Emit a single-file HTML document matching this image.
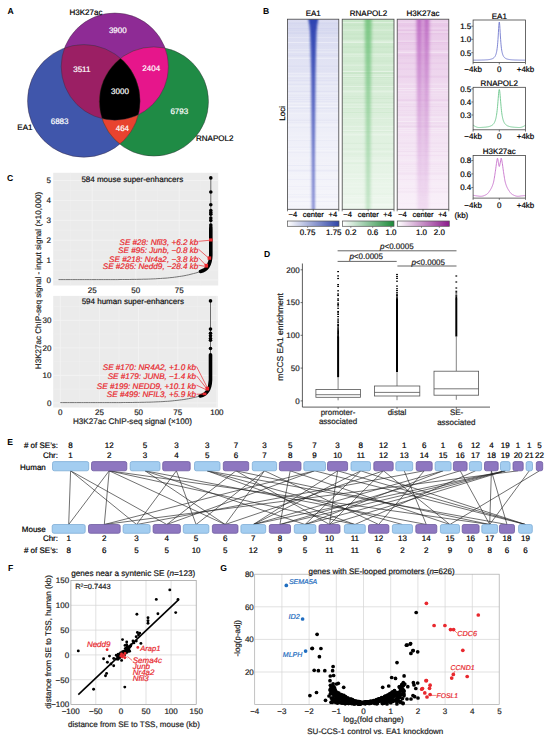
<!DOCTYPE html>
<html><head><meta charset="utf-8"><title>Figure</title>
<style>html,body{margin:0;padding:0;background:#fff;width:550px;height:742px;overflow:hidden;} svg{display:block;} text{font-family:"Liberation Sans",sans-serif;text-rendering:geometricPrecision;stroke-width:0.2px;}</style>
</head><body>
<svg width="550" height="742" viewBox="0 0 550 742">
<rect width="550" height="742" fill="#fff"/>
<text x="10.5" y="13.8" font-size="8.6" text-anchor="middle" fill="#000" stroke="none" font-weight="bold" font-style="normal" >A</text>
<defs><clipPath id="cP"><circle cx="114.8" cy="66.6" r="53.6" fill="#000" /></clipPath><clipPath id="cB"><circle cx="83.8" cy="100.9" r="56.3" fill="#000" /></clipPath><clipPath id="cG"><circle cx="153.9" cy="101.5" r="54.6" fill="#000" /></clipPath></defs>
<circle cx="114.8" cy="66.6" r="53.6" fill="#8E2B95" />
<circle cx="83.8" cy="100.9" r="56.3" fill="#4056AB" />
<circle cx="153.9" cy="101.5" r="54.6" fill="#1F8B45" />
<g clip-path="url(#cP)"><circle cx="83.8" cy="100.9" r="56.3" fill="#9B1F64" /><circle cx="153.9" cy="101.5" r="54.6" fill="#E6168B" /></g>
<g clip-path="url(#cB)"><circle cx="153.9" cy="101.5" r="54.6" fill="#E8432F" /></g>
<g clip-path="url(#cB)"><g clip-path="url(#cG)"><circle cx="114.8" cy="66.6" r="53.6" fill="#000" /></g></g>
<circle cx="114.8" cy="66.6" r="53.6" fill="none" stroke="#3a2a3a" stroke-width="0.6" stroke-opacity="0.7"/>
<circle cx="83.8" cy="100.9" r="56.3" fill="none" stroke="#3a2a3a" stroke-width="0.6" stroke-opacity="0.7"/>
<circle cx="153.9" cy="101.5" r="54.6" fill="none" stroke="#3a2a3a" stroke-width="0.6" stroke-opacity="0.7"/>
<text x="117.8" y="32.6" font-size="8" text-anchor="middle" fill="#fff" stroke="#fff" font-weight="normal" font-style="normal" >3900</text>
<text x="81.8" y="71.5" font-size="8" text-anchor="middle" fill="#fff" stroke="#fff" font-weight="normal" font-style="normal" >3511</text>
<text x="151.2" y="70.7" font-size="8" text-anchor="middle" fill="#fff" stroke="#fff" font-weight="normal" font-style="normal" >2404</text>
<text x="120" y="94.1" font-size="8" text-anchor="middle" fill="#fff" stroke="#fff" font-weight="normal" font-style="normal" >3000</text>
<text x="59.6" y="124.1" font-size="8" text-anchor="middle" fill="#fff" stroke="#fff" font-weight="normal" font-style="normal" >6883</text>
<text x="122.4" y="131.2" font-size="8" text-anchor="middle" fill="#fff" stroke="#fff" font-weight="normal" font-style="normal" >464</text>
<text x="179.3" y="114.4" font-size="8" text-anchor="middle" fill="#fff" stroke="#fff" font-weight="normal" font-style="normal" >6793</text>
<text x="86" y="14.6" font-size="8" text-anchor="middle" fill="#000" stroke="#000" font-weight="normal" font-style="normal" >H3K27ac</text>
<text x="17.3" y="129.8" font-size="8" text-anchor="start" fill="#000" stroke="#000" font-weight="normal" font-style="normal" >EA1</text>
<text x="196" y="141.3" font-size="8" text-anchor="start" fill="#000" stroke="#000" font-weight="normal" font-style="normal" >RNAPOL2</text>
<text x="266" y="14.3" font-size="8.6" text-anchor="middle" fill="#000" stroke="none" font-weight="bold" font-style="normal" >B</text>
<text x="313.2" y="16.2" font-size="8" text-anchor="middle" fill="#000" stroke="#000" font-weight="normal" font-style="normal" >EA1</text>
<text x="368.5" y="16.2" font-size="8" text-anchor="middle" fill="#000" stroke="#000" font-weight="normal" font-style="normal" >RNAPOL2</text>
<text x="423" y="16.2" font-size="8" text-anchor="middle" fill="#000" stroke="#000" font-weight="normal" font-style="normal" >H3K27ac</text>
<defs><linearGradient id="bge" x1="0" y1="0" x2="0" y2="1"><stop offset="0" stop-color="#D8DAF0"/><stop offset="0.45" stop-color="#EBECF7"/><stop offset="1" stop-color="#F6F6FB"/></linearGradient><linearGradient id="bde" x1="0" y1="0" x2="0" y2="1"><stop offset="0" stop-color="#2F45B2" stop-opacity="1"/><stop offset="1" stop-color="#5A64C4" stop-opacity="0.7"/></linearGradient><filter id="ble" x="-50%" y="-5%" width="200%" height="110%"><feGaussianBlur stdDeviation="0.9 0.3"/></filter></defs>
<rect x="287.5" y="19.2" width="51.30000000000001" height="190.10000000000002" fill="url(#bge)"/>
<rect x="287.5" y="20.7" width="51.30000000000001" height="0.8" fill="#fff" opacity="0.26"/>
<rect x="287.5" y="23.2" width="51.30000000000001" height="0.8" fill="#B8BCE4" opacity="0.16"/>
<rect x="287.5" y="24.7" width="51.30000000000001" height="0.8" fill="#B8BCE4" opacity="0.03"/>
<rect x="287.5" y="28.2" width="51.30000000000001" height="0.8" fill="#B8BCE4" opacity="0.24"/>
<rect x="287.5" y="29.7" width="51.30000000000001" height="0.8" fill="#B8BCE4" opacity="0.20"/>
<rect x="287.5" y="31.7" width="51.30000000000001" height="0.8" fill="#B8BCE4" opacity="0.01"/>
<rect x="287.5" y="32.7" width="51.30000000000001" height="0.8" fill="#B8BCE4" opacity="0.31"/>
<rect x="287.5" y="37.2" width="51.30000000000001" height="0.8" fill="#fff" opacity="0.29"/>
<rect x="287.5" y="42.2" width="51.30000000000001" height="0.8" fill="#fff" opacity="0.47"/>
<rect x="287.5" y="45.2" width="51.30000000000001" height="0.8" fill="#B8BCE4" opacity="0.04"/>
<rect x="287.5" y="49.2" width="51.30000000000001" height="0.8" fill="#fff" opacity="0.26"/>
<rect x="287.5" y="51.7" width="51.30000000000001" height="0.8" fill="#fff" opacity="0.46"/>
<rect x="287.5" y="55.2" width="51.30000000000001" height="0.8" fill="#B8BCE4" opacity="0.13"/>
<rect x="287.5" y="57.2" width="51.30000000000001" height="0.8" fill="#fff" opacity="0.18"/>
<rect x="287.5" y="58.2" width="51.30000000000001" height="0.8" fill="#fff" opacity="0.43"/>
<rect x="287.5" y="65.7" width="51.30000000000001" height="0.8" fill="#B8BCE4" opacity="0.19"/>
<rect x="287.5" y="68.7" width="51.30000000000001" height="0.8" fill="#B8BCE4" opacity="0.12"/>
<rect x="287.5" y="70.7" width="51.30000000000001" height="0.8" fill="#B8BCE4" opacity="0.13"/>
<rect x="287.5" y="73.2" width="51.30000000000001" height="0.8" fill="#fff" opacity="0.32"/>
<rect x="287.5" y="75.7" width="51.30000000000001" height="0.8" fill="#fff" opacity="0.47"/>
<rect x="287.5" y="77.7" width="51.30000000000001" height="0.8" fill="#B8BCE4" opacity="0.16"/>
<rect x="287.5" y="80.2" width="51.30000000000001" height="0.8" fill="#B8BCE4" opacity="0.13"/>
<rect x="287.5" y="82.2" width="51.30000000000001" height="0.8" fill="#fff" opacity="0.15"/>
<rect x="287.5" y="84.2" width="51.30000000000001" height="0.8" fill="#B8BCE4" opacity="0.12"/>
<rect x="287.5" y="85.7" width="51.30000000000001" height="0.8" fill="#fff" opacity="0.35"/>
<rect x="287.5" y="90.2" width="51.30000000000001" height="0.8" fill="#B8BCE4" opacity="0.02"/>
<rect x="287.5" y="91.2" width="51.30000000000001" height="0.8" fill="#B8BCE4" opacity="0.19"/>
<rect x="287.5" y="93.2" width="51.30000000000001" height="0.8" fill="#fff" opacity="0.18"/>
<rect x="287.5" y="95.2" width="51.30000000000001" height="0.8" fill="#B8BCE4" opacity="0.07"/>
<rect x="287.5" y="97.2" width="51.30000000000001" height="0.8" fill="#B8BCE4" opacity="0.13"/>
<rect x="287.5" y="99.2" width="51.30000000000001" height="0.8" fill="#B8BCE4" opacity="0.16"/>
<rect x="287.5" y="101.2" width="51.30000000000001" height="0.8" fill="#B8BCE4" opacity="0.12"/>
<rect x="287.5" y="103.2" width="51.30000000000001" height="0.8" fill="#fff" opacity="0.26"/>
<rect x="287.5" y="104.7" width="51.30000000000001" height="0.8" fill="#B8BCE4" opacity="0.06"/>
<rect x="287.5" y="106.2" width="51.30000000000001" height="0.8" fill="#fff" opacity="0.43"/>
<rect x="287.5" y="107.2" width="51.30000000000001" height="0.8" fill="#B8BCE4" opacity="0.05"/>
<rect x="287.5" y="108.2" width="51.30000000000001" height="0.8" fill="#B8BCE4" opacity="0.17"/>
<rect x="287.5" y="110.7" width="51.30000000000001" height="0.8" fill="#B8BCE4" opacity="0.13"/>
<rect x="287.5" y="113.2" width="51.30000000000001" height="0.8" fill="#fff" opacity="0.21"/>
<rect x="287.5" y="118.2" width="51.30000000000001" height="0.8" fill="#B8BCE4" opacity="0.01"/>
<rect x="287.5" y="119.7" width="51.30000000000001" height="0.8" fill="#B8BCE4" opacity="0.19"/>
<rect x="287.5" y="122.2" width="51.30000000000001" height="0.8" fill="#B8BCE4" opacity="0.09"/>
<rect x="287.5" y="124.7" width="51.30000000000001" height="0.8" fill="#fff" opacity="0.40"/>
<rect x="287.5" y="127.2" width="51.30000000000001" height="0.8" fill="#B8BCE4" opacity="0.08"/>
<rect x="287.5" y="132.7" width="51.30000000000001" height="0.8" fill="#fff" opacity="0.22"/>
<rect x="287.5" y="134.7" width="51.30000000000001" height="0.8" fill="#fff" opacity="0.30"/>
<rect x="287.5" y="136.7" width="51.30000000000001" height="0.8" fill="#B8BCE4" opacity="0.00"/>
<rect x="287.5" y="138.7" width="51.30000000000001" height="0.8" fill="#fff" opacity="0.34"/>
<rect x="287.5" y="140.2" width="51.30000000000001" height="0.8" fill="#B8BCE4" opacity="0.07"/>
<rect x="287.5" y="145.7" width="51.30000000000001" height="0.8" fill="#fff" opacity="0.32"/>
<rect x="287.5" y="146.7" width="51.30000000000001" height="0.8" fill="#B8BCE4" opacity="0.13"/>
<rect x="287.5" y="148.2" width="51.30000000000001" height="0.8" fill="#fff" opacity="0.19"/>
<rect x="287.5" y="150.2" width="51.30000000000001" height="0.8" fill="#fff" opacity="0.32"/>
<rect x="287.5" y="152.2" width="51.30000000000001" height="0.8" fill="#B8BCE4" opacity="0.07"/>
<rect x="287.5" y="156.7" width="51.30000000000001" height="0.8" fill="#fff" opacity="0.18"/>
<rect x="287.5" y="157.7" width="51.30000000000001" height="0.8" fill="#fff" opacity="0.22"/>
<rect x="287.5" y="161.7" width="51.30000000000001" height="0.8" fill="#fff" opacity="0.22"/>
<rect x="287.5" y="164.2" width="51.30000000000001" height="0.8" fill="#fff" opacity="0.17"/>
<rect x="287.5" y="165.2" width="51.30000000000001" height="0.8" fill="#B8BCE4" opacity="0.15"/>
<rect x="287.5" y="169.7" width="51.30000000000001" height="0.8" fill="#B8BCE4" opacity="0.14"/>
<rect x="287.5" y="170.7" width="51.30000000000001" height="0.8" fill="#B8BCE4" opacity="0.13"/>
<rect x="287.5" y="171.7" width="51.30000000000001" height="0.8" fill="#B8BCE4" opacity="0.01"/>
<rect x="287.5" y="175.2" width="51.30000000000001" height="0.8" fill="#fff" opacity="0.18"/>
<rect x="287.5" y="179.2" width="51.30000000000001" height="0.8" fill="#B8BCE4" opacity="0.13"/>
<rect x="287.5" y="183.2" width="51.30000000000001" height="0.8" fill="#fff" opacity="0.17"/>
<rect x="287.5" y="186.2" width="51.30000000000001" height="0.8" fill="#B8BCE4" opacity="0.10"/>
<rect x="287.5" y="188.7" width="51.30000000000001" height="0.8" fill="#B8BCE4" opacity="0.04"/>
<rect x="287.5" y="194.2" width="51.30000000000001" height="0.8" fill="#B8BCE4" opacity="0.08"/>
<rect x="287.5" y="195.7" width="51.30000000000001" height="0.8" fill="#B8BCE4" opacity="0.04"/>
<rect x="287.5" y="196.7" width="51.30000000000001" height="0.8" fill="#B8BCE4" opacity="0.10"/>
<rect x="287.5" y="199.2" width="51.30000000000001" height="0.8" fill="#fff" opacity="0.16"/>
<rect x="287.5" y="201.2" width="51.30000000000001" height="0.8" fill="#B8BCE4" opacity="0.11"/>
<rect x="287.5" y="203.2" width="51.30000000000001" height="0.8" fill="#B8BCE4" opacity="0.00"/>
<rect x="287.5" y="205.2" width="51.30000000000001" height="0.8" fill="#B8BCE4" opacity="0.03"/>
<rect x="287.5" y="206.2" width="51.30000000000001" height="0.8" fill="#B8BCE4" opacity="0.03"/>
<rect x="287.5" y="207.7" width="51.30000000000001" height="0.8" fill="#B8BCE4" opacity="0.04"/>
<rect x="287.5" y="208.7" width="51.30000000000001" height="0.8" fill="#B8BCE4" opacity="0.08"/>
<polygon points="308.3,19.2 309.3,25.0 310.0,32.0 310.5,48.0 311.1,75.0 311.4,120.0 311.7,160.0 311.8,209.3 314.9,209.3 314.9,160.0 315.2,120.0 315.6,75.0 316.1,48.0 316.6,32.0 317.3,25.0 318.3,19.2" fill="url(#bde)" filter="url(#ble)"/>
<rect x="287.5" y="19.2" width="51.30000000000001" height="190.10000000000002" fill="none" stroke="#444" stroke-width="0.8"/>
<line x1="287.5" y1="209.3" x2="287.5" y2="211.3" stroke="#444" stroke-width="0.7"/>
<line x1="313.3" y1="209.3" x2="313.3" y2="211.3" stroke="#444" stroke-width="0.7"/>
<line x1="338.8" y1="209.3" x2="338.8" y2="211.3" stroke="#444" stroke-width="0.7"/>
<defs><linearGradient id="bgr" x1="0" y1="0" x2="0" y2="1"><stop offset="0" stop-color="#CBE8CB"/><stop offset="0.45" stop-color="#DAEEDA"/><stop offset="1" stop-color="#EEF7EE"/></linearGradient><linearGradient id="bdr" x1="0" y1="0" x2="0" y2="1"><stop offset="0" stop-color="#62BC6E" stop-opacity="0.75"/><stop offset="1" stop-color="#A8D8AE" stop-opacity="0.6"/></linearGradient><filter id="blr" x="-50%" y="-5%" width="200%" height="110%"><feGaussianBlur stdDeviation="1.6 0.3"/></filter></defs>
<rect x="342.2" y="19.2" width="51.80000000000001" height="190.10000000000002" fill="url(#bgr)"/>
<rect x="342.2" y="20.7" width="51.80000000000001" height="0.8" fill="#A8D8A8" opacity="0.03"/>
<rect x="342.2" y="22.2" width="51.80000000000001" height="0.8" fill="#fff" opacity="0.46"/>
<rect x="342.2" y="24.2" width="51.80000000000001" height="0.8" fill="#A8D8A8" opacity="0.09"/>
<rect x="342.2" y="25.2" width="51.80000000000001" height="0.8" fill="#A8D8A8" opacity="0.20"/>
<rect x="342.2" y="29.7" width="51.80000000000001" height="0.8" fill="#fff" opacity="0.37"/>
<rect x="342.2" y="33.7" width="51.80000000000001" height="0.8" fill="#A8D8A8" opacity="0.15"/>
<rect x="342.2" y="37.7" width="51.80000000000001" height="0.8" fill="#A8D8A8" opacity="0.18"/>
<rect x="342.2" y="38.7" width="51.80000000000001" height="0.8" fill="#A8D8A8" opacity="0.06"/>
<rect x="342.2" y="40.7" width="51.80000000000001" height="0.8" fill="#fff" opacity="0.54"/>
<rect x="342.2" y="42.2" width="51.80000000000001" height="0.8" fill="#fff" opacity="0.53"/>
<rect x="342.2" y="46.7" width="51.80000000000001" height="0.8" fill="#A8D8A8" opacity="0.25"/>
<rect x="342.2" y="51.7" width="51.80000000000001" height="0.8" fill="#A8D8A8" opacity="0.20"/>
<rect x="342.2" y="53.7" width="51.80000000000001" height="0.8" fill="#fff" opacity="0.49"/>
<rect x="342.2" y="55.7" width="51.80000000000001" height="0.8" fill="#fff" opacity="0.39"/>
<rect x="342.2" y="60.7" width="51.80000000000001" height="0.8" fill="#A8D8A8" opacity="0.14"/>
<rect x="342.2" y="64.7" width="51.80000000000001" height="0.8" fill="#fff" opacity="0.42"/>
<rect x="342.2" y="69.2" width="51.80000000000001" height="0.8" fill="#A8D8A8" opacity="0.09"/>
<rect x="342.2" y="71.2" width="51.80000000000001" height="0.8" fill="#fff" opacity="0.47"/>
<rect x="342.2" y="72.2" width="51.80000000000001" height="0.8" fill="#A8D8A8" opacity="0.22"/>
<rect x="342.2" y="73.2" width="51.80000000000001" height="0.8" fill="#A8D8A8" opacity="0.25"/>
<rect x="342.2" y="74.2" width="51.80000000000001" height="0.8" fill="#fff" opacity="0.17"/>
<rect x="342.2" y="76.2" width="51.80000000000001" height="0.8" fill="#fff" opacity="0.35"/>
<rect x="342.2" y="77.2" width="51.80000000000001" height="0.8" fill="#A8D8A8" opacity="0.21"/>
<rect x="342.2" y="79.2" width="51.80000000000001" height="0.8" fill="#A8D8A8" opacity="0.07"/>
<rect x="342.2" y="81.2" width="51.80000000000001" height="0.8" fill="#A8D8A8" opacity="0.02"/>
<rect x="342.2" y="82.7" width="51.80000000000001" height="0.8" fill="#A8D8A8" opacity="0.18"/>
<rect x="342.2" y="84.7" width="51.80000000000001" height="0.8" fill="#A8D8A8" opacity="0.10"/>
<rect x="342.2" y="86.2" width="51.80000000000001" height="0.8" fill="#fff" opacity="0.38"/>
<rect x="342.2" y="87.2" width="51.80000000000001" height="0.8" fill="#A8D8A8" opacity="0.10"/>
<rect x="342.2" y="88.7" width="51.80000000000001" height="0.8" fill="#A8D8A8" opacity="0.04"/>
<rect x="342.2" y="90.7" width="51.80000000000001" height="0.8" fill="#fff" opacity="0.44"/>
<rect x="342.2" y="91.7" width="51.80000000000001" height="0.8" fill="#fff" opacity="0.24"/>
<rect x="342.2" y="96.2" width="51.80000000000001" height="0.8" fill="#A8D8A8" opacity="0.12"/>
<rect x="342.2" y="98.2" width="51.80000000000001" height="0.8" fill="#A8D8A8" opacity="0.21"/>
<rect x="342.2" y="102.2" width="51.80000000000001" height="0.8" fill="#A8D8A8" opacity="0.13"/>
<rect x="342.2" y="104.2" width="51.80000000000001" height="0.8" fill="#fff" opacity="0.22"/>
<rect x="342.2" y="106.7" width="51.80000000000001" height="0.8" fill="#fff" opacity="0.34"/>
<rect x="342.2" y="108.2" width="51.80000000000001" height="0.8" fill="#A8D8A8" opacity="0.16"/>
<rect x="342.2" y="109.7" width="51.80000000000001" height="0.8" fill="#A8D8A8" opacity="0.04"/>
<rect x="342.2" y="112.2" width="51.80000000000001" height="0.8" fill="#A8D8A8" opacity="0.23"/>
<rect x="342.2" y="114.7" width="51.80000000000001" height="0.8" fill="#A8D8A8" opacity="0.02"/>
<rect x="342.2" y="118.2" width="51.80000000000001" height="0.8" fill="#fff" opacity="0.22"/>
<rect x="342.2" y="119.2" width="51.80000000000001" height="0.8" fill="#A8D8A8" opacity="0.03"/>
<rect x="342.2" y="122.2" width="51.80000000000001" height="0.8" fill="#A8D8A8" opacity="0.02"/>
<rect x="342.2" y="123.7" width="51.80000000000001" height="0.8" fill="#A8D8A8" opacity="0.02"/>
<rect x="342.2" y="126.2" width="51.80000000000001" height="0.8" fill="#fff" opacity="0.27"/>
<rect x="342.2" y="130.2" width="51.80000000000001" height="0.8" fill="#fff" opacity="0.33"/>
<rect x="342.2" y="131.2" width="51.80000000000001" height="0.8" fill="#A8D8A8" opacity="0.12"/>
<rect x="342.2" y="133.7" width="51.80000000000001" height="0.8" fill="#fff" opacity="0.38"/>
<rect x="342.2" y="134.7" width="51.80000000000001" height="0.8" fill="#fff" opacity="0.31"/>
<rect x="342.2" y="142.2" width="51.80000000000001" height="0.8" fill="#A8D8A8" opacity="0.02"/>
<rect x="342.2" y="143.2" width="51.80000000000001" height="0.8" fill="#A8D8A8" opacity="0.15"/>
<rect x="342.2" y="146.7" width="51.80000000000001" height="0.8" fill="#A8D8A8" opacity="0.00"/>
<rect x="342.2" y="148.7" width="51.80000000000001" height="0.8" fill="#A8D8A8" opacity="0.17"/>
<rect x="342.2" y="151.2" width="51.80000000000001" height="0.8" fill="#fff" opacity="0.19"/>
<rect x="342.2" y="153.7" width="51.80000000000001" height="0.8" fill="#A8D8A8" opacity="0.13"/>
<rect x="342.2" y="155.7" width="51.80000000000001" height="0.8" fill="#A8D8A8" opacity="0.07"/>
<rect x="342.2" y="156.7" width="51.80000000000001" height="0.8" fill="#fff" opacity="0.18"/>
<rect x="342.2" y="159.7" width="51.80000000000001" height="0.8" fill="#fff" opacity="0.16"/>
<rect x="342.2" y="160.7" width="51.80000000000001" height="0.8" fill="#fff" opacity="0.30"/>
<rect x="342.2" y="162.7" width="51.80000000000001" height="0.8" fill="#A8D8A8" opacity="0.16"/>
<rect x="342.2" y="164.7" width="51.80000000000001" height="0.8" fill="#fff" opacity="0.20"/>
<rect x="342.2" y="171.7" width="51.80000000000001" height="0.8" fill="#A8D8A8" opacity="0.06"/>
<rect x="342.2" y="173.7" width="51.80000000000001" height="0.8" fill="#fff" opacity="0.25"/>
<rect x="342.2" y="175.7" width="51.80000000000001" height="0.8" fill="#A8D8A8" opacity="0.01"/>
<rect x="342.2" y="178.2" width="51.80000000000001" height="0.8" fill="#fff" opacity="0.31"/>
<rect x="342.2" y="179.2" width="51.80000000000001" height="0.8" fill="#A8D8A8" opacity="0.02"/>
<rect x="342.2" y="182.7" width="51.80000000000001" height="0.8" fill="#fff" opacity="0.22"/>
<rect x="342.2" y="186.2" width="51.80000000000001" height="0.8" fill="#fff" opacity="0.17"/>
<rect x="342.2" y="188.2" width="51.80000000000001" height="0.8" fill="#A8D8A8" opacity="0.02"/>
<rect x="342.2" y="193.7" width="51.80000000000001" height="0.8" fill="#A8D8A8" opacity="0.11"/>
<rect x="342.2" y="194.7" width="51.80000000000001" height="0.8" fill="#fff" opacity="0.22"/>
<rect x="342.2" y="197.2" width="51.80000000000001" height="0.8" fill="#fff" opacity="0.25"/>
<rect x="342.2" y="201.7" width="51.80000000000001" height="0.8" fill="#A8D8A8" opacity="0.06"/>
<rect x="342.2" y="204.2" width="51.80000000000001" height="0.8" fill="#fff" opacity="0.28"/>
<rect x="342.2" y="205.2" width="51.80000000000001" height="0.8" fill="#fff" opacity="0.19"/>
<rect x="342.2" y="208.7" width="51.80000000000001" height="0.8" fill="#A8D8A8" opacity="0.04"/>
<polygon points="364.7,19.2 365.2,60.0 365.7,120.0 365.9,209.3 370.4,209.3 370.7,120.0 371.2,60.0 371.7,19.2" fill="url(#bdr)" filter="url(#blr)"/>
<rect x="342.2" y="19.2" width="51.80000000000001" height="190.10000000000002" fill="none" stroke="#444" stroke-width="0.8"/>
<line x1="342.2" y1="209.3" x2="342.2" y2="211.3" stroke="#444" stroke-width="0.7"/>
<line x1="368.2" y1="209.3" x2="368.2" y2="211.3" stroke="#444" stroke-width="0.7"/>
<line x1="394" y1="209.3" x2="394" y2="211.3" stroke="#444" stroke-width="0.7"/>
<defs><linearGradient id="bgh" x1="0" y1="0" x2="0" y2="1"><stop offset="0" stop-color="#E9C8E8"/><stop offset="0.45" stop-color="#F1DEF1"/><stop offset="1" stop-color="#F9F0F9"/></linearGradient><linearGradient id="bdh" x1="0" y1="0" x2="0" y2="1"><stop offset="0" stop-color="#C478C8" stop-opacity="0.6"/><stop offset="1" stop-color="#E6C4E8" stop-opacity="0.45"/></linearGradient><filter id="blh" x="-50%" y="-5%" width="200%" height="110%"><feGaussianBlur stdDeviation="1.6 0.3"/></filter></defs>
<rect x="397.2" y="19.2" width="51.60000000000002" height="190.10000000000002" fill="url(#bgh)"/>
<rect x="397.2" y="19.7" width="51.60000000000002" height="0.8" fill="#fff" opacity="0.25"/>
<rect x="397.2" y="21.7" width="51.60000000000002" height="0.8" fill="#fff" opacity="0.53"/>
<rect x="397.2" y="25.2" width="51.60000000000002" height="0.8" fill="#D8A8D8" opacity="0.09"/>
<rect x="397.2" y="27.7" width="51.60000000000002" height="0.8" fill="#fff" opacity="0.37"/>
<rect x="397.2" y="30.2" width="51.60000000000002" height="0.8" fill="#D8A8D8" opacity="0.21"/>
<rect x="397.2" y="31.7" width="51.60000000000002" height="0.8" fill="#fff" opacity="0.50"/>
<rect x="397.2" y="32.7" width="51.60000000000002" height="0.8" fill="#D8A8D8" opacity="0.22"/>
<rect x="397.2" y="33.7" width="51.60000000000002" height="0.8" fill="#D8A8D8" opacity="0.10"/>
<rect x="397.2" y="40.7" width="51.60000000000002" height="0.8" fill="#fff" opacity="0.43"/>
<rect x="397.2" y="42.2" width="51.60000000000002" height="0.8" fill="#D8A8D8" opacity="0.28"/>
<rect x="397.2" y="43.7" width="51.60000000000002" height="0.8" fill="#D8A8D8" opacity="0.16"/>
<rect x="397.2" y="48.7" width="51.60000000000002" height="0.8" fill="#D8A8D8" opacity="0.16"/>
<rect x="397.2" y="50.7" width="51.60000000000002" height="0.8" fill="#fff" opacity="0.35"/>
<rect x="397.2" y="52.2" width="51.60000000000002" height="0.8" fill="#fff" opacity="0.48"/>
<rect x="397.2" y="54.7" width="51.60000000000002" height="0.8" fill="#D8A8D8" opacity="0.21"/>
<rect x="397.2" y="55.7" width="51.60000000000002" height="0.8" fill="#D8A8D8" opacity="0.22"/>
<rect x="397.2" y="57.7" width="51.60000000000002" height="0.8" fill="#D8A8D8" opacity="0.09"/>
<rect x="397.2" y="62.7" width="51.60000000000002" height="0.8" fill="#D8A8D8" opacity="0.26"/>
<rect x="397.2" y="68.7" width="51.60000000000002" height="0.8" fill="#D8A8D8" opacity="0.21"/>
<rect x="397.2" y="72.7" width="51.60000000000002" height="0.8" fill="#D8A8D8" opacity="0.00"/>
<rect x="397.2" y="75.7" width="51.60000000000002" height="0.8" fill="#D8A8D8" opacity="0.17"/>
<rect x="397.2" y="76.7" width="51.60000000000002" height="0.8" fill="#D8A8D8" opacity="0.27"/>
<rect x="397.2" y="83.7" width="51.60000000000002" height="0.8" fill="#fff" opacity="0.36"/>
<rect x="397.2" y="88.2" width="51.60000000000002" height="0.8" fill="#fff" opacity="0.44"/>
<rect x="397.2" y="90.2" width="51.60000000000002" height="0.8" fill="#fff" opacity="0.31"/>
<rect x="397.2" y="93.2" width="51.60000000000002" height="0.8" fill="#fff" opacity="0.16"/>
<rect x="397.2" y="94.7" width="51.60000000000002" height="0.8" fill="#fff" opacity="0.17"/>
<rect x="397.2" y="99.2" width="51.60000000000002" height="0.8" fill="#D8A8D8" opacity="0.18"/>
<rect x="397.2" y="100.2" width="51.60000000000002" height="0.8" fill="#D8A8D8" opacity="0.23"/>
<rect x="397.2" y="102.2" width="51.60000000000002" height="0.8" fill="#fff" opacity="0.22"/>
<rect x="397.2" y="104.2" width="51.60000000000002" height="0.8" fill="#D8A8D8" opacity="0.04"/>
<rect x="397.2" y="106.2" width="51.60000000000002" height="0.8" fill="#D8A8D8" opacity="0.20"/>
<rect x="397.2" y="110.2" width="51.60000000000002" height="0.8" fill="#D8A8D8" opacity="0.07"/>
<rect x="397.2" y="112.2" width="51.60000000000002" height="0.8" fill="#D8A8D8" opacity="0.05"/>
<rect x="397.2" y="114.7" width="51.60000000000002" height="0.8" fill="#D8A8D8" opacity="0.15"/>
<rect x="397.2" y="116.7" width="51.60000000000002" height="0.8" fill="#fff" opacity="0.41"/>
<rect x="397.2" y="121.2" width="51.60000000000002" height="0.8" fill="#fff" opacity="0.38"/>
<rect x="397.2" y="122.7" width="51.60000000000002" height="0.8" fill="#D8A8D8" opacity="0.17"/>
<rect x="397.2" y="125.7" width="51.60000000000002" height="0.8" fill="#D8A8D8" opacity="0.18"/>
<rect x="397.2" y="126.7" width="51.60000000000002" height="0.8" fill="#D8A8D8" opacity="0.17"/>
<rect x="397.2" y="128.2" width="51.60000000000002" height="0.8" fill="#fff" opacity="0.26"/>
<rect x="397.2" y="130.2" width="51.60000000000002" height="0.8" fill="#fff" opacity="0.27"/>
<rect x="397.2" y="132.2" width="51.60000000000002" height="0.8" fill="#fff" opacity="0.25"/>
<rect x="397.2" y="134.7" width="51.60000000000002" height="0.8" fill="#D8A8D8" opacity="0.03"/>
<rect x="397.2" y="138.7" width="51.60000000000002" height="0.8" fill="#fff" opacity="0.16"/>
<rect x="397.2" y="142.7" width="51.60000000000002" height="0.8" fill="#D8A8D8" opacity="0.15"/>
<rect x="397.2" y="146.7" width="51.60000000000002" height="0.8" fill="#D8A8D8" opacity="0.09"/>
<rect x="397.2" y="147.7" width="51.60000000000002" height="0.8" fill="#fff" opacity="0.27"/>
<rect x="397.2" y="148.7" width="51.60000000000002" height="0.8" fill="#D8A8D8" opacity="0.06"/>
<rect x="397.2" y="151.2" width="51.60000000000002" height="0.8" fill="#D8A8D8" opacity="0.15"/>
<rect x="397.2" y="152.7" width="51.60000000000002" height="0.8" fill="#fff" opacity="0.19"/>
<rect x="397.2" y="155.2" width="51.60000000000002" height="0.8" fill="#D8A8D8" opacity="0.14"/>
<rect x="397.2" y="157.7" width="51.60000000000002" height="0.8" fill="#D8A8D8" opacity="0.01"/>
<rect x="397.2" y="159.7" width="51.60000000000002" height="0.8" fill="#fff" opacity="0.28"/>
<rect x="397.2" y="162.7" width="51.60000000000002" height="0.8" fill="#D8A8D8" opacity="0.02"/>
<rect x="397.2" y="163.7" width="51.60000000000002" height="0.8" fill="#D8A8D8" opacity="0.14"/>
<rect x="397.2" y="166.2" width="51.60000000000002" height="0.8" fill="#D8A8D8" opacity="0.05"/>
<rect x="397.2" y="168.2" width="51.60000000000002" height="0.8" fill="#D8A8D8" opacity="0.06"/>
<rect x="397.2" y="170.2" width="51.60000000000002" height="0.8" fill="#D8A8D8" opacity="0.06"/>
<rect x="397.2" y="172.2" width="51.60000000000002" height="0.8" fill="#D8A8D8" opacity="0.07"/>
<rect x="397.2" y="173.2" width="51.60000000000002" height="0.8" fill="#D8A8D8" opacity="0.11"/>
<rect x="397.2" y="174.2" width="51.60000000000002" height="0.8" fill="#D8A8D8" opacity="0.09"/>
<rect x="397.2" y="179.2" width="51.60000000000002" height="0.8" fill="#D8A8D8" opacity="0.09"/>
<rect x="397.2" y="181.7" width="51.60000000000002" height="0.8" fill="#fff" opacity="0.16"/>
<rect x="397.2" y="183.7" width="51.60000000000002" height="0.8" fill="#fff" opacity="0.22"/>
<rect x="397.2" y="186.2" width="51.60000000000002" height="0.8" fill="#D8A8D8" opacity="0.00"/>
<rect x="397.2" y="188.2" width="51.60000000000002" height="0.8" fill="#D8A8D8" opacity="0.09"/>
<rect x="397.2" y="190.7" width="51.60000000000002" height="0.8" fill="#D8A8D8" opacity="0.03"/>
<rect x="397.2" y="191.7" width="51.60000000000002" height="0.8" fill="#D8A8D8" opacity="0.12"/>
<rect x="397.2" y="193.7" width="51.60000000000002" height="0.8" fill="#fff" opacity="0.17"/>
<rect x="397.2" y="200.7" width="51.60000000000002" height="0.8" fill="#fff" opacity="0.22"/>
<rect x="397.2" y="203.2" width="51.60000000000002" height="0.8" fill="#D8A8D8" opacity="0.02"/>
<rect x="397.2" y="204.2" width="51.60000000000002" height="0.8" fill="#D8A8D8" opacity="0.00"/>
<rect x="397.2" y="208.7" width="51.60000000000002" height="0.8" fill="#D8A8D8" opacity="0.08"/>
<polygon points="416.0,19.2 416.5,60.0 417.0,120.0 417.5,209.3 428.5,209.3 429.0,120.0 429.5,60.0 430.0,19.2" fill="url(#bdh)" filter="url(#blh)"/>
<rect x="397.2" y="19.2" width="51.60000000000002" height="190.10000000000002" fill="none" stroke="#444" stroke-width="0.8"/>
<line x1="397.2" y1="209.3" x2="397.2" y2="211.3" stroke="#444" stroke-width="0.7"/>
<line x1="423" y1="209.3" x2="423" y2="211.3" stroke="#444" stroke-width="0.7"/>
<line x1="448.8" y1="209.3" x2="448.8" y2="211.3" stroke="#444" stroke-width="0.7"/>
<defs><linearGradient id="bgh2" x1="0" y1="0" x2="0" y2="1"><stop offset="0" stop-color="none"/><stop offset="0.45" stop-color="none"/><stop offset="1" stop-color="none"/></linearGradient><linearGradient id="bdh2" x1="0" y1="0" x2="0" y2="1"><stop offset="0" stop-color="#B050B8" stop-opacity="0.55"/><stop offset="1" stop-color="#E0B8E2" stop-opacity="0.0"/></linearGradient><filter id="blh2" x="-50%" y="-5%" width="200%" height="110%"><feGaussianBlur stdDeviation="0.9 0.3"/></filter></defs>
<polygon points="417.2,19.2 417.2,60.0 417.4,120.0 417.7,209.3 420.7,209.3 420.9,120.0 421.2,60.0 421.2,19.2" fill="url(#bdh2)" filter="url(#blh2)"/>
<polygon points="424.6,19.2 424.6,60.0 424.9,120.0 425.1,209.3 428.1,209.3 428.4,120.0 428.6,60.0 428.6,19.2" fill="url(#bdh2)" filter="url(#blh2)"/>
<text x="292.8" y="217.3" font-size="7.6" text-anchor="middle" fill="#000" stroke="#000" font-weight="normal" font-style="normal" >−4</text>
<text x="313.3" y="217.3" font-size="7.6" text-anchor="middle" fill="#000" stroke="#000" font-weight="normal" font-style="normal" >center</text>
<text x="332.8" y="217.3" font-size="7.6" text-anchor="middle" fill="#000" stroke="#000" font-weight="normal" font-style="normal" >+4</text>
<text x="347.7" y="217.3" font-size="7.6" text-anchor="middle" fill="#000" stroke="#000" font-weight="normal" font-style="normal" >−4</text>
<text x="368.2" y="217.3" font-size="7.6" text-anchor="middle" fill="#000" stroke="#000" font-weight="normal" font-style="normal" >center</text>
<text x="387.7" y="217.3" font-size="7.6" text-anchor="middle" fill="#000" stroke="#000" font-weight="normal" font-style="normal" >+4</text>
<text x="402.5" y="217.3" font-size="7.6" text-anchor="middle" fill="#000" stroke="#000" font-weight="normal" font-style="normal" >−4</text>
<text x="423" y="217.3" font-size="7.6" text-anchor="middle" fill="#000" stroke="#000" font-weight="normal" font-style="normal" >center</text>
<text x="442.5" y="217.3" font-size="7.6" text-anchor="middle" fill="#000" stroke="#000" font-weight="normal" font-style="normal" >+4</text>
<text x="454.5" y="217.6" font-size="8" text-anchor="start" fill="#000" stroke="#000" font-weight="normal" font-style="normal" >(kb)</text>
<defs><linearGradient id="cbe" x1="0" y1="0" x2="1" y2="0"><stop offset="0" stop-color="#FFFFFF"/><stop offset="1" stop-color="#2F45A8"/></linearGradient></defs><rect x="287.5" y="221" width="51.5" height="5.300000000000011" fill="url(#cbe)" stroke="#555" stroke-width="0.7"/>
<defs><linearGradient id="cbr" x1="0" y1="0" x2="1" y2="0"><stop offset="0" stop-color="#FFFFFF"/><stop offset="1" stop-color="#1D8A3A"/></linearGradient></defs><rect x="342.5" y="221" width="51.5" height="5.300000000000011" fill="url(#cbr)" stroke="#555" stroke-width="0.7"/>
<defs><linearGradient id="cbh" x1="0" y1="0" x2="1" y2="0"><stop offset="0" stop-color="#FFFFFF"/><stop offset="1" stop-color="#8C1C8C"/></linearGradient></defs><rect x="397.3" y="221" width="52.0" height="5.300000000000011" fill="url(#cbh)" stroke="#555" stroke-width="0.7"/>
<line x1="307.6" y1="226.3" x2="307.6" y2="228" stroke="#555" stroke-width="0.6"/>
<text x="307.6" y="235" font-size="8" text-anchor="middle" fill="#000" stroke="#000" font-weight="normal" font-style="normal" >0.75</text>
<line x1="333.8" y1="226.3" x2="333.8" y2="228" stroke="#555" stroke-width="0.6"/>
<text x="333.8" y="235" font-size="8" text-anchor="middle" fill="#000" stroke="#000" font-weight="normal" font-style="normal" >1.75</text>
<line x1="350.8" y1="226.3" x2="350.8" y2="228" stroke="#555" stroke-width="0.6"/>
<text x="350.8" y="235" font-size="8" text-anchor="middle" fill="#000" stroke="#000" font-weight="normal" font-style="normal" >0.2</text>
<line x1="372.7" y1="226.3" x2="372.7" y2="228" stroke="#555" stroke-width="0.6"/>
<text x="372.7" y="235" font-size="8" text-anchor="middle" fill="#000" stroke="#000" font-weight="normal" font-style="normal" >0.6</text>
<line x1="391" y1="226.3" x2="391" y2="228" stroke="#555" stroke-width="0.6"/>
<text x="391" y="235" font-size="8" text-anchor="middle" fill="#000" stroke="#000" font-weight="normal" font-style="normal" >1.0</text>
<line x1="421.5" y1="226.3" x2="421.5" y2="228" stroke="#555" stroke-width="0.6"/>
<text x="421.5" y="235" font-size="8" text-anchor="middle" fill="#000" stroke="#000" font-weight="normal" font-style="normal" >1.0</text>
<line x1="439.3" y1="226.3" x2="439.3" y2="228" stroke="#555" stroke-width="0.6"/>
<text x="439.3" y="235" font-size="8" text-anchor="middle" fill="#000" stroke="#000" font-weight="normal" font-style="normal" >2.0</text>
<text x="0" y="0" font-size="8" text-anchor="middle" stroke="#000" transform="translate(284.6,113.4) rotate(-90)">Loci</text>
<text x="499.3" y="18.5" font-size="8" text-anchor="middle" fill="#000" stroke="#000" font-weight="normal" font-style="normal" >EA1</text>
<polyline points="473.10,60.18 473.32,60.18 473.54,60.18 473.75,60.18 473.97,60.18 474.19,60.17 474.41,60.17 474.63,60.17 474.85,60.17 475.06,60.17 475.28,60.16 475.50,60.16 475.72,60.16 475.94,60.15 476.16,60.15 476.38,60.15 476.59,60.15 476.81,60.14 477.03,60.14 477.25,60.14 477.47,60.13 477.69,60.13 477.90,60.13 478.12,60.12 478.34,60.12 478.56,60.12 478.78,60.11 479.00,60.11 479.21,60.10 479.43,60.10 479.65,60.10 479.87,60.09 480.09,60.09 480.31,60.08 480.52,60.08 480.74,60.07 480.96,60.07 481.18,60.06 481.40,60.05 481.62,60.05 481.83,60.04 482.05,60.03 482.27,60.03 482.49,60.02 482.71,60.01 482.93,60.01 483.14,60.00 483.36,59.99 483.58,59.98 483.80,59.97 484.02,59.96 484.24,59.95 484.45,59.94 484.67,59.93 484.89,59.92 485.11,59.91 485.33,59.90 485.55,59.88 485.76,59.87 485.98,59.86 486.20,59.84 486.42,59.83 486.64,59.81 486.86,59.79 487.07,59.78 487.29,59.76 487.51,59.74 487.73,59.72 487.95,59.69 488.17,59.67 488.38,59.64 488.60,59.62 488.82,59.59 489.04,59.56 489.26,59.53 489.48,59.49 489.69,59.46 489.91,59.42 490.13,59.38 490.35,59.33 490.57,59.28 490.79,59.23 491.00,59.18 491.22,59.12 491.44,59.05 491.66,58.98 491.88,58.91 492.10,58.83 492.31,58.74 492.53,58.64 492.75,58.53 492.97,58.41 493.19,58.28 493.41,58.14 493.62,57.98 493.84,57.80 494.06,57.61 494.28,57.39 494.50,57.14 494.72,56.86 494.93,56.54 495.15,56.18 495.37,55.76 495.59,55.28 495.81,54.73 496.03,54.09 496.24,53.34 496.46,52.45 496.68,51.40 496.90,50.16 497.12,48.68 497.34,46.91 497.55,44.79 497.77,42.28 497.99,39.33 498.21,35.97 498.43,32.29 498.64,28.56 498.86,25.22 499.08,22.86 499.30,22.00 499.52,22.86 499.74,25.22 499.95,28.56 500.17,32.29 500.39,35.97 500.61,39.33 500.83,42.28 501.05,44.79 501.26,46.91 501.48,48.68 501.70,50.16 501.92,51.40 502.14,52.45 502.36,53.34 502.57,54.09 502.79,54.73 503.01,55.28 503.23,55.76 503.45,56.18 503.67,56.54 503.88,56.86 504.10,57.14 504.32,57.39 504.54,57.61 504.76,57.80 504.98,57.98 505.19,58.14 505.41,58.28 505.63,58.41 505.85,58.53 506.07,58.64 506.29,58.74 506.50,58.83 506.72,58.91 506.94,58.98 507.16,59.05 507.38,59.12 507.60,59.18 507.81,59.23 508.03,59.28 508.25,59.33 508.47,59.38 508.69,59.42 508.91,59.46 509.12,59.49 509.34,59.53 509.56,59.56 509.78,59.59 510.00,59.62 510.22,59.64 510.44,59.67 510.65,59.69 510.87,59.72 511.09,59.74 511.31,59.76 511.53,59.78 511.75,59.79 511.96,59.81 512.18,59.83 512.40,59.84 512.62,59.86 512.84,59.87 513.05,59.88 513.27,59.90 513.49,59.91 513.71,59.92 513.93,59.93 514.15,59.94 514.37,59.95 514.58,59.96 514.80,59.97 515.02,59.98 515.24,59.99 515.46,60.00 515.67,60.01 515.89,60.01 516.11,60.02 516.33,60.03 516.55,60.03 516.77,60.04 516.99,60.05 517.20,60.05 517.42,60.06 517.64,60.07 517.86,60.07 518.08,60.08 518.29,60.08 518.51,60.09 518.73,60.09 518.95,60.10 519.17,60.10 519.39,60.10 519.61,60.11 519.82,60.11 520.04,60.12 520.26,60.12 520.48,60.12 520.70,60.13 520.91,60.13 521.13,60.13 521.35,60.14 521.57,60.14 521.79,60.14 522.01,60.15 522.23,60.15 522.44,60.15 522.66,60.15 522.88,60.16 523.10,60.16 523.32,60.16 523.53,60.17 523.75,60.17 523.97,60.17 524.19,60.17 524.41,60.17 524.63,60.18 524.85,60.18 525.06,60.18 525.28,60.18 525.50,60.18" fill="none" stroke="#7279CE" stroke-width="0.9"/>
<rect x="473.1" y="20" width="52.39999999999998" height="42.5" fill="none" stroke="#444" stroke-width="0.8"/>
<line x1="471.3" y1="26.2" x2="473.1" y2="26.2" stroke="#444" stroke-width="0.7"/>
<text x="471.3" y="29.0" font-size="8" text-anchor="end" fill="#000" stroke="#000" font-weight="normal" font-style="normal" >1.5</text>
<line x1="471.3" y1="39.3" x2="473.1" y2="39.3" stroke="#444" stroke-width="0.7"/>
<text x="471.3" y="42.099999999999994" font-size="8" text-anchor="end" fill="#000" stroke="#000" font-weight="normal" font-style="normal" >1.0</text>
<line x1="471.3" y1="52.7" x2="473.1" y2="52.7" stroke="#444" stroke-width="0.7"/>
<text x="471.3" y="55.5" font-size="8" text-anchor="end" fill="#000" stroke="#000" font-weight="normal" font-style="normal" >0.5</text>
<line x1="473.1" y1="62.5" x2="473.1" y2="64.3" stroke="#444" stroke-width="0.7"/>
<text x="473.1" y="72.1" font-size="8" text-anchor="middle" fill="#000" stroke="#000" font-weight="normal" font-style="normal" >−4kb</text>
<line x1="499.3" y1="62.5" x2="499.3" y2="64.3" stroke="#444" stroke-width="0.7"/>
<text x="499.3" y="72.1" font-size="8" text-anchor="middle" fill="#000" stroke="#000" font-weight="normal" font-style="normal" >0</text>
<line x1="525.5" y1="62.5" x2="525.5" y2="64.3" stroke="#444" stroke-width="0.7"/>
<text x="525.5" y="72.1" font-size="8" text-anchor="middle" fill="#000" stroke="#000" font-weight="normal" font-style="normal" >+4kb</text>
<text x="499.3" y="85.8" font-size="8" text-anchor="middle" fill="#000" stroke="#000" font-weight="normal" font-style="normal" >RNAPOL2</text>
<polyline points="473.10,125.08 473.32,125.25 473.54,125.41 473.75,125.57 473.97,125.72 474.19,125.86 474.41,126.00 474.63,126.13 474.85,126.25 475.06,126.37 475.28,126.49 475.50,126.60 475.72,126.70 475.94,126.79 476.16,126.88 476.38,126.97 476.59,127.05 476.81,127.12 477.03,127.19 477.25,127.25 477.47,127.30 477.69,127.35 477.90,127.39 478.12,127.43 478.34,127.46 478.56,127.49 478.78,127.50 479.00,127.52 479.21,127.52 479.43,127.52 479.65,127.52 479.87,127.51 480.09,127.50 480.31,127.49 480.52,127.48 480.74,127.47 480.96,127.46 481.18,127.45 481.40,127.44 481.62,127.43 481.83,127.42 482.05,127.41 482.27,127.39 482.49,127.38 482.71,127.37 482.93,127.35 483.14,127.34 483.36,127.32 483.58,127.31 483.80,127.29 484.02,127.27 484.24,127.26 484.45,127.24 484.67,127.22 484.89,127.20 485.11,127.18 485.33,127.15 485.55,127.13 485.76,127.11 485.98,127.08 486.20,127.05 486.42,127.02 486.64,126.99 486.86,126.96 487.07,126.93 487.29,126.90 487.51,126.86 487.73,126.82 487.95,126.78 488.17,126.74 488.38,126.69 488.60,126.64 488.82,126.59 489.04,126.54 489.26,126.48 489.48,126.42 489.69,126.35 489.91,126.28 490.13,126.21 490.35,126.13 490.57,126.04 490.79,125.95 491.00,125.86 491.22,125.75 491.44,125.64 491.66,125.51 491.88,125.38 492.10,125.23 492.31,125.08 492.53,124.91 492.75,124.72 492.97,124.52 493.19,124.29 493.41,124.05 493.62,123.78 493.84,123.48 494.06,123.15 494.28,122.79 494.50,122.38 494.72,121.93 494.93,121.42 495.15,120.84 495.37,120.20 495.59,119.47 495.81,118.65 496.03,117.71 496.24,116.64 496.46,115.43 496.68,114.04 496.90,112.46 497.12,110.67 497.34,108.65 497.55,106.39 497.77,103.91 497.99,101.25 498.21,98.48 498.43,95.75 498.64,93.25 498.86,91.21 499.08,89.87 499.30,89.40 499.52,89.87 499.74,91.21 499.95,93.25 500.17,95.75 500.39,98.48 500.61,101.25 500.83,103.91 501.05,106.39 501.26,108.65 501.48,110.67 501.70,112.46 501.92,114.04 502.14,115.43 502.36,116.64 502.57,117.71 502.79,118.65 503.01,119.47 503.23,120.20 503.45,120.84 503.67,121.42 503.88,121.93 504.10,122.38 504.32,122.79 504.54,123.15 504.76,123.48 504.98,123.78 505.19,124.05 505.41,124.29 505.63,124.52 505.85,124.72 506.07,124.91 506.29,125.08 506.50,125.23 506.72,125.38 506.94,125.51 507.16,125.64 507.38,125.75 507.60,125.86 507.81,125.95 508.03,126.04 508.25,126.13 508.47,126.21 508.69,126.28 508.91,126.35 509.12,126.42 509.34,126.48 509.56,126.54 509.78,126.59 510.00,126.64 510.22,126.69 510.44,126.74 510.65,126.78 510.87,126.82 511.09,126.86 511.31,126.90 511.53,126.93 511.75,126.96 511.96,126.99 512.18,127.02 512.40,127.05 512.62,127.08 512.84,127.11 513.05,127.13 513.27,127.15 513.49,127.18 513.71,127.20 513.93,127.22 514.15,127.24 514.37,127.26 514.58,127.27 514.80,127.29 515.02,127.31 515.24,127.32 515.46,127.34 515.67,127.35 515.89,127.37 516.11,127.38 516.33,127.39 516.55,127.41 516.77,127.42 516.99,127.43 517.20,127.44 517.42,127.45 517.64,127.46 517.86,127.47 518.08,127.48 518.29,127.49 518.51,127.50 518.73,127.51 518.95,127.52 519.17,127.52 519.39,127.52 519.61,127.52 519.82,127.50 520.04,127.49 520.26,127.46 520.48,127.43 520.70,127.39 520.91,127.35 521.13,127.30 521.35,127.25 521.57,127.19 521.79,127.12 522.01,127.05 522.23,126.97 522.44,126.88 522.66,126.79 522.88,126.70 523.10,126.60 523.32,126.49 523.53,126.37 523.75,126.25 523.97,126.13 524.19,126.00 524.41,125.86 524.63,125.72 524.85,125.57 525.06,125.41 525.28,125.25 525.50,125.08" fill="none" stroke="#6CC68C" stroke-width="0.9"/>
<rect x="473.1" y="87.3" width="52.39999999999998" height="42.500000000000014" fill="none" stroke="#444" stroke-width="0.8"/>
<line x1="471.3" y1="88.9" x2="473.1" y2="88.9" stroke="#444" stroke-width="0.7"/>
<text x="471.3" y="91.7" font-size="8" text-anchor="end" fill="#000" stroke="#000" font-weight="normal" font-style="normal" >0.5</text>
<line x1="471.3" y1="102" x2="473.1" y2="102" stroke="#444" stroke-width="0.7"/>
<text x="471.3" y="104.8" font-size="8" text-anchor="end" fill="#000" stroke="#000" font-weight="normal" font-style="normal" >0.4</text>
<line x1="471.3" y1="115" x2="473.1" y2="115" stroke="#444" stroke-width="0.7"/>
<text x="471.3" y="117.8" font-size="8" text-anchor="end" fill="#000" stroke="#000" font-weight="normal" font-style="normal" >0.3</text>
<line x1="473.1" y1="129.8" x2="473.1" y2="131.60000000000002" stroke="#444" stroke-width="0.7"/>
<text x="473.1" y="139.4" font-size="8" text-anchor="middle" fill="#000" stroke="#000" font-weight="normal" font-style="normal" >−4kb</text>
<line x1="499.3" y1="129.8" x2="499.3" y2="131.60000000000002" stroke="#444" stroke-width="0.7"/>
<text x="499.3" y="139.4" font-size="8" text-anchor="middle" fill="#000" stroke="#000" font-weight="normal" font-style="normal" >0</text>
<line x1="525.5" y1="129.8" x2="525.5" y2="131.60000000000002" stroke="#444" stroke-width="0.7"/>
<text x="525.5" y="139.4" font-size="8" text-anchor="middle" fill="#000" stroke="#000" font-weight="normal" font-style="normal" >+4kb</text>
<text x="499.3" y="154.0" font-size="8" text-anchor="middle" fill="#000" stroke="#000" font-weight="normal" font-style="normal" >H3K27ac</text>
<polyline points="473.10,195.24 473.32,195.28 473.54,195.33 473.75,195.37 473.97,195.41 474.19,195.45 474.41,195.49 474.63,195.53 474.85,195.57 475.06,195.61 475.28,195.65 475.50,195.68 475.72,195.72 475.94,195.75 476.16,195.78 476.38,195.82 476.59,195.85 476.81,195.88 477.03,195.90 477.25,195.93 477.47,195.96 477.69,195.99 477.90,196.02 478.12,196.05 478.34,196.08 478.56,196.11 478.78,196.14 479.00,196.17 479.21,196.19 479.43,196.22 479.65,196.24 479.87,196.26 480.09,196.27 480.31,196.28 480.52,196.29 480.74,196.30 480.96,196.30 481.18,196.29 481.40,196.28 481.62,196.26 481.83,196.23 482.05,196.20 482.27,196.16 482.49,196.11 482.71,196.06 482.93,196.00 483.14,195.93 483.36,195.86 483.58,195.79 483.80,195.71 484.02,195.62 484.24,195.54 484.45,195.45 484.67,195.35 484.89,195.25 485.11,195.15 485.33,195.05 485.55,194.94 485.76,194.83 485.98,194.72 486.20,194.60 486.42,194.49 486.64,194.36 486.86,194.22 487.07,194.05 487.29,193.87 487.51,193.67 487.73,193.45 487.95,193.22 488.17,192.98 488.38,192.72 488.60,192.44 488.82,192.16 489.04,191.86 489.26,191.55 489.48,191.23 489.69,190.91 489.91,190.57 490.13,190.23 490.35,189.88 490.57,189.52 490.79,189.16 491.00,188.78 491.22,188.38 491.44,187.95 491.66,187.50 491.88,187.03 492.10,186.52 492.31,185.97 492.53,185.40 492.75,184.78 492.97,184.13 493.19,183.43 493.41,182.68 493.62,181.82 493.84,180.79 494.06,179.63 494.28,178.36 494.50,177.01 494.72,175.60 494.93,174.17 495.15,172.75 495.37,171.35 495.59,169.83 495.81,168.22 496.03,166.58 496.24,164.97 496.46,163.45 496.68,162.11 496.90,160.79 497.12,159.45 497.34,158.47 497.55,158.23 497.77,158.88 497.99,160.08 498.21,161.45 498.43,162.63 498.64,163.83 498.86,165.09 499.08,166.09 499.30,166.50 499.52,166.17 499.74,165.35 499.95,164.25 500.17,163.10 500.39,162.05 500.61,160.74 500.83,159.40 501.05,158.44 501.26,158.23 501.48,158.78 501.70,159.79 501.92,161.01 502.14,162.20 502.36,163.51 502.57,165.02 502.79,166.65 503.01,168.32 503.23,169.95 503.45,171.47 503.67,172.87 503.88,174.29 504.10,175.72 504.32,177.12 504.54,178.47 504.76,179.73 504.98,180.88 505.19,181.90 505.41,182.75 505.63,183.49 505.85,184.18 506.07,184.83 506.29,185.45 506.50,186.02 506.72,186.56 506.94,187.07 507.16,187.54 507.38,187.99 507.60,188.41 507.81,188.81 508.03,189.19 508.25,189.55 508.47,189.91 508.69,190.26 508.91,190.60 509.12,190.93 509.34,191.26 509.56,191.58 509.78,191.89 510.00,192.18 510.22,192.47 510.44,192.74 510.65,193.00 510.87,193.24 511.09,193.47 511.31,193.69 511.53,193.89 511.75,194.07 511.96,194.23 512.18,194.37 512.40,194.50 512.62,194.61 512.84,194.73 513.05,194.84 513.27,194.95 513.49,195.05 513.71,195.16 513.93,195.26 514.15,195.36 514.37,195.45 514.58,195.54 514.80,195.63 515.02,195.72 515.24,195.79 515.46,195.87 515.67,195.94 515.89,196.00 516.11,196.06 516.33,196.11 516.55,196.16 516.77,196.20 516.99,196.23 517.20,196.26 517.42,196.28 517.64,196.29 517.86,196.30 518.08,196.30 518.29,196.29 518.51,196.28 518.73,196.26 518.95,196.24 519.17,196.22 519.39,196.19 519.61,196.16 519.82,196.13 520.04,196.10 520.26,196.07 520.48,196.03 520.70,196.00 520.91,195.97 521.13,195.94 521.35,195.92 521.57,195.89 521.79,195.87 522.01,195.85 522.23,195.83 522.44,195.80 522.66,195.78 522.88,195.76 523.10,195.74 523.32,195.72 523.53,195.69 523.75,195.67 523.97,195.65 524.19,195.63 524.41,195.61 524.63,195.59 524.85,195.57 525.06,195.55 525.28,195.53 525.50,195.51" fill="none" stroke="#C66FCB" stroke-width="0.9"/>
<rect x="473.1" y="155.5" width="52.39999999999998" height="42.599999999999994" fill="none" stroke="#444" stroke-width="0.8"/>
<line x1="471.3" y1="160.5" x2="473.1" y2="160.5" stroke="#444" stroke-width="0.7"/>
<text x="471.3" y="163.3" font-size="8" text-anchor="end" fill="#000" stroke="#000" font-weight="normal" font-style="normal" >0.8</text>
<line x1="471.3" y1="173.9" x2="473.1" y2="173.9" stroke="#444" stroke-width="0.7"/>
<text x="471.3" y="176.70000000000002" font-size="8" text-anchor="end" fill="#000" stroke="#000" font-weight="normal" font-style="normal" >0.6</text>
<line x1="471.3" y1="187.5" x2="473.1" y2="187.5" stroke="#444" stroke-width="0.7"/>
<text x="471.3" y="190.3" font-size="8" text-anchor="end" fill="#000" stroke="#000" font-weight="normal" font-style="normal" >0.4</text>
<line x1="473.1" y1="198.1" x2="473.1" y2="199.9" stroke="#444" stroke-width="0.7"/>
<text x="473.1" y="207.7" font-size="8" text-anchor="middle" fill="#000" stroke="#000" font-weight="normal" font-style="normal" >−4kb</text>
<line x1="499.3" y1="198.1" x2="499.3" y2="199.9" stroke="#444" stroke-width="0.7"/>
<text x="499.3" y="207.7" font-size="8" text-anchor="middle" fill="#000" stroke="#000" font-weight="normal" font-style="normal" >0</text>
<line x1="525.5" y1="198.1" x2="525.5" y2="199.9" stroke="#444" stroke-width="0.7"/>
<text x="525.5" y="207.7" font-size="8" text-anchor="middle" fill="#000" stroke="#000" font-weight="normal" font-style="normal" >+4kb</text>
<text x="10" y="181" font-size="8.6" text-anchor="middle" fill="#000" stroke="none" font-weight="bold" font-style="normal" >C</text>
<rect x="53.2" y="172.8" width="165.0" height="112.69999999999999" fill="#EBEBEB"/>
<line x1="70.45" y1="172.8" x2="70.45" y2="285.5" stroke="#F1F1F1" stroke-width="0.5"/>
<line x1="113.95" y1="172.8" x2="113.95" y2="285.5" stroke="#F1F1F1" stroke-width="0.5"/>
<line x1="157.45" y1="172.8" x2="157.45" y2="285.5" stroke="#F1F1F1" stroke-width="0.5"/>
<line x1="200.95" y1="172.8" x2="200.95" y2="285.5" stroke="#F1F1F1" stroke-width="0.5"/>
<line x1="53.2" y1="270.05" x2="218.2" y2="270.05" stroke="#F1F1F1" stroke-width="0.5"/>
<line x1="53.2" y1="250.15" x2="218.2" y2="250.15" stroke="#F1F1F1" stroke-width="0.5"/>
<line x1="53.2" y1="230.25" x2="218.2" y2="230.25" stroke="#F1F1F1" stroke-width="0.5"/>
<line x1="53.2" y1="210.35000000000002" x2="218.2" y2="210.35000000000002" stroke="#F1F1F1" stroke-width="0.5"/>
<line x1="53.2" y1="190.45" x2="218.2" y2="190.45" stroke="#F1F1F1" stroke-width="0.5"/>
<line x1="92.2" y1="172.8" x2="92.2" y2="285.5" stroke="#F4F4F4" stroke-width="0.8"/>
<line x1="135.7" y1="172.8" x2="135.7" y2="285.5" stroke="#F4F4F4" stroke-width="0.8"/>
<line x1="179.2" y1="172.8" x2="179.2" y2="285.5" stroke="#F4F4F4" stroke-width="0.8"/>
<line x1="53.2" y1="280.0" x2="218.2" y2="280.0" stroke="#F4F4F4" stroke-width="0.8"/>
<line x1="53.2" y1="260.1" x2="218.2" y2="260.1" stroke="#F4F4F4" stroke-width="0.8"/>
<line x1="53.2" y1="240.2" x2="218.2" y2="240.2" stroke="#F4F4F4" stroke-width="0.8"/>
<line x1="53.2" y1="220.3" x2="218.2" y2="220.3" stroke="#F4F4F4" stroke-width="0.8"/>
<line x1="53.2" y1="200.4" x2="218.2" y2="200.4" stroke="#F4F4F4" stroke-width="0.8"/>
<line x1="53.2" y1="180.5" x2="218.2" y2="180.5" stroke="#F4F4F4" stroke-width="0.8"/>
<text x="51" y="282.9" font-size="8" text-anchor="end" fill="#222" stroke="#222" font-weight="normal" font-style="normal" >0</text>
<text x="51" y="263.0" font-size="8" text-anchor="end" fill="#222" stroke="#222" font-weight="normal" font-style="normal" >1</text>
<text x="51" y="243.1" font-size="8" text-anchor="end" fill="#222" stroke="#222" font-weight="normal" font-style="normal" >2</text>
<text x="51" y="223.20000000000002" font-size="8" text-anchor="end" fill="#222" stroke="#222" font-weight="normal" font-style="normal" >3</text>
<text x="51" y="203.3" font-size="8" text-anchor="end" fill="#222" stroke="#222" font-weight="normal" font-style="normal" >4</text>
<text x="51" y="183.4" font-size="8" text-anchor="end" fill="#222" stroke="#222" font-weight="normal" font-style="normal" >5</text>
<text x="92.2" y="293.09999999999997" font-size="8" text-anchor="middle" fill="#222" stroke="#222" font-weight="normal" font-style="normal" >25</text>
<text x="135.7" y="293.09999999999997" font-size="8" text-anchor="middle" fill="#222" stroke="#222" font-weight="normal" font-style="normal" >50</text>
<text x="179.2" y="293.09999999999997" font-size="8" text-anchor="middle" fill="#222" stroke="#222" font-weight="normal" font-style="normal" >75</text>
<text x="132.3" y="182.4" font-size="8" text-anchor="middle" fill="#111" stroke="#111" font-weight="normal" font-style="normal" >584 mouse super-enhancers</text>
<polyline points="58.5,279.6 60.9,279.6 63.2,279.6 65.6,279.6 68.0,279.6 70.3,279.6 72.7,279.6 75.1,279.6 77.4,279.6 79.8,279.6 82.2,279.6 84.5,279.6 86.9,279.6 89.3,279.6 91.6,279.6 94.0,279.6 96.4,279.6 98.7,279.6 101.1,279.6 103.5,279.6 105.8,279.6 108.2,279.6 110.6,279.6 112.9,279.6 115.3,279.6 117.7,279.6 120.0,279.5 122.4,279.5 124.8,279.5 127.1,279.5 129.5,279.5 131.9,279.4 134.2,279.4 136.6,279.4 139.0,279.3 141.3,279.3 143.7,279.2 146.1,279.2 148.4,279.1 150.8,279.0 153.2,278.9 155.5,278.8 157.9,278.6 160.3,278.5 162.6,278.3 165.0,278.2 167.4,278.0 169.7,277.7 172.1,277.5 174.5,277.2 176.8,276.9 179.2,276.5 181.6,276.2 183.9,275.8 186.3,275.3 188.7,274.8 191.0,274.2 193.4,273.6 195.8,273.0 198.1,272.3 200.5,271.5" fill="none" stroke="#666" stroke-width="0.9"/>
<path d="M200.5,271.5 Q210.3,269.5 210.8,255.5 L210.8,177.9" fill="none" stroke="#333" stroke-width="0.7"/>
<path d="M200.5,271.5 Q210.3,269.5 210.8,255.5 L210.8,228.5" fill="none" stroke="#000" stroke-width="3.6" stroke-linecap="round"/>
<circle cx="210.8" cy="177.9" r="1.8" fill="#000"/>
<circle cx="210.8" cy="192" r="1.8" fill="#000"/>
<circle cx="210.8" cy="204.8" r="1.8" fill="#000"/>
<circle cx="210.8" cy="210.5" r="1.8" fill="#000"/>
<circle cx="210.8" cy="212.5" r="1.8" fill="#000"/>
<circle cx="210.8" cy="214.2" r="1.8" fill="#000"/>
<circle cx="210.8" cy="218" r="1.8" fill="#000"/>
<circle cx="210.8" cy="220.4" r="1.8" fill="#000"/>
<circle cx="210.8" cy="225" r="1.8" fill="#000"/>
<circle cx="210.8" cy="227" r="1.8" fill="#000"/>
<line x1="210.8" y1="238.4" x2="210.8" y2="241.5" stroke="#E8282E" stroke-width="3.6"/>
<line x1="209.4" y1="256.4" x2="209.4" y2="259.8" stroke="#E8282E" stroke-width="3.6"/>
<line x1="206.3" y1="263.8" x2="206.3" y2="267.6" stroke="#E8282E" stroke-width="3.6"/>
<text x="198.3" y="244.95" font-size="8.15" text-anchor="end" fill="#E8282E" stroke="#E8282E" font-weight="normal" font-style="italic" >SE #28: Nfil3, +6.2 kb</text>
<text x="198.3" y="253.35" font-size="8.15" text-anchor="end" fill="#E8282E" stroke="#E8282E" font-weight="normal" font-style="italic" >SE #95: Junb, −0.8 kb</text>
<text x="198.3" y="261.55" font-size="8.15" text-anchor="end" fill="#E8282E" stroke="#E8282E" font-weight="normal" font-style="italic" >SE #218: Nr4a2, −3.8 kb</text>
<text x="198.3" y="268.84999999999997" font-size="8.15" text-anchor="end" fill="#E8282E" stroke="#E8282E" font-weight="normal" font-style="italic" >SE #285: Nedd9, −28.4 kb</text>
<line x1="198.5" y1="241.3" x2="210.5" y2="240.2" stroke="#E8282E" stroke-width="0.7"/>
<line x1="198.5" y1="249.2" x2="208.8" y2="258.2" stroke="#E8282E" stroke-width="0.7"/>
<line x1="198.5" y1="257.6" x2="205.8" y2="265.2" stroke="#E8282E" stroke-width="0.7"/>
<line x1="198.5" y1="265.2" x2="204.2" y2="266.2" stroke="#E8282E" stroke-width="0.7"/>
<rect x="53.2" y="295.9" width="164.5" height="111.60000000000002" fill="#EBEBEB"/>
<line x1="79.875" y1="295.9" x2="79.875" y2="407.5" stroke="#F1F1F1" stroke-width="0.5"/>
<line x1="119.025" y1="295.9" x2="119.025" y2="407.5" stroke="#F1F1F1" stroke-width="0.5"/>
<line x1="158.175" y1="295.9" x2="158.175" y2="407.5" stroke="#F1F1F1" stroke-width="0.5"/>
<line x1="197.325" y1="295.9" x2="197.325" y2="407.5" stroke="#F1F1F1" stroke-width="0.5"/>
<line x1="53.2" y1="389.215" x2="217.7" y2="389.215" stroke="#F1F1F1" stroke-width="0.5"/>
<line x1="53.2" y1="361.645" x2="217.7" y2="361.645" stroke="#F1F1F1" stroke-width="0.5"/>
<line x1="53.2" y1="334.075" x2="217.7" y2="334.075" stroke="#F1F1F1" stroke-width="0.5"/>
<line x1="53.2" y1="306.505" x2="217.7" y2="306.505" stroke="#F1F1F1" stroke-width="0.5"/>
<line x1="60.3" y1="295.9" x2="60.3" y2="407.5" stroke="#F4F4F4" stroke-width="0.8"/>
<line x1="99.44999999999999" y1="295.9" x2="99.44999999999999" y2="407.5" stroke="#F4F4F4" stroke-width="0.8"/>
<line x1="138.6" y1="295.9" x2="138.6" y2="407.5" stroke="#F4F4F4" stroke-width="0.8"/>
<line x1="177.75" y1="295.9" x2="177.75" y2="407.5" stroke="#F4F4F4" stroke-width="0.8"/>
<line x1="216.89999999999998" y1="295.9" x2="216.89999999999998" y2="407.5" stroke="#F4F4F4" stroke-width="0.8"/>
<line x1="53.2" y1="403.0" x2="217.7" y2="403.0" stroke="#F4F4F4" stroke-width="0.8"/>
<line x1="53.2" y1="375.43" x2="217.7" y2="375.43" stroke="#F4F4F4" stroke-width="0.8"/>
<line x1="53.2" y1="347.86" x2="217.7" y2="347.86" stroke="#F4F4F4" stroke-width="0.8"/>
<line x1="53.2" y1="320.28999999999996" x2="217.7" y2="320.28999999999996" stroke="#F4F4F4" stroke-width="0.8"/>
<text x="51.5" y="405.9" font-size="8" text-anchor="end" fill="#222" stroke="#222" font-weight="normal" font-style="normal" >0</text>
<text x="51.5" y="378.33" font-size="8" text-anchor="end" fill="#222" stroke="#222" font-weight="normal" font-style="normal" >10</text>
<text x="51.5" y="350.76" font-size="8" text-anchor="end" fill="#222" stroke="#222" font-weight="normal" font-style="normal" >20</text>
<text x="51.5" y="323.18999999999994" font-size="8" text-anchor="end" fill="#222" stroke="#222" font-weight="normal" font-style="normal" >30</text>
<text x="60.3" y="415.4" font-size="8" text-anchor="middle" fill="#222" stroke="#222" font-weight="normal" font-style="normal" >0</text>
<text x="99.44999999999999" y="415.4" font-size="8" text-anchor="middle" fill="#222" stroke="#222" font-weight="normal" font-style="normal" >25</text>
<text x="138.6" y="415.4" font-size="8" text-anchor="middle" fill="#222" stroke="#222" font-weight="normal" font-style="normal" >50</text>
<text x="177.75" y="415.4" font-size="8" text-anchor="middle" fill="#222" stroke="#222" font-weight="normal" font-style="normal" >75</text>
<text x="216.89999999999998" y="415.4" font-size="8" text-anchor="middle" fill="#222" stroke="#222" font-weight="normal" font-style="normal" >100</text>
<text x="132.8" y="304.2" font-size="8" text-anchor="middle" fill="#111" stroke="#111" font-weight="normal" font-style="normal" >594 human super-enhancers</text>
<polyline points="60.3,402.6 62.6,402.6 65.0,402.6 67.3,402.6 69.6,402.6 72.0,402.6 74.3,402.6 76.6,402.6 79.0,402.6 81.3,402.6 83.6,402.6 85.9,402.6 88.3,402.6 90.6,402.6 92.9,402.6 95.3,402.6 97.6,402.6 99.9,402.6 102.3,402.6 104.6,402.6 106.9,402.6 109.3,402.6 111.6,402.6 113.9,402.6 116.3,402.6 118.6,402.6 120.9,402.6 123.3,402.5 125.6,402.5 127.9,402.5 130.2,402.5 132.6,402.5 134.9,402.4 137.2,402.4 139.6,402.4 141.9,402.3 144.2,402.3 146.6,402.2 148.9,402.2 151.2,402.1 153.6,402.0 155.9,401.9 158.2,401.8 160.6,401.7 162.9,401.6 165.2,401.4 167.6,401.3 169.9,401.1 172.2,400.9 174.6,400.6 176.9,400.4 179.2,400.1 181.5,399.8 183.9,399.5 186.2,399.1 188.5,398.7 190.9,398.2 193.2,397.7 195.5,397.2 197.9,396.6 200.2,396.0" fill="none" stroke="#666" stroke-width="0.9"/>
<path d="M200.2,396 Q210.0,394 210.5,380 L210.5,300.9" fill="none" stroke="#333" stroke-width="0.7"/>
<path d="M200.2,396 Q210.0,394 210.5,380 L210.5,354.7" fill="none" stroke="#000" stroke-width="3.6" stroke-linecap="round"/>
<circle cx="210.5" cy="300.9" r="1.8" fill="#000"/>
<circle cx="210.5" cy="329.1" r="1.8" fill="#000"/>
<circle cx="210.5" cy="333.2" r="1.8" fill="#000"/>
<circle cx="210.5" cy="335.8" r="1.8" fill="#000"/>
<circle cx="210.5" cy="338.5" r="1.8" fill="#000"/>
<circle cx="210.5" cy="340.2" r="1.8" fill="#000"/>
<circle cx="210.5" cy="348.5" r="1.8" fill="#000"/>
<line x1="207.3" y1="386.8" x2="207.3" y2="390.5" stroke="#E8282E" stroke-width="3.6"/>
<line x1="204.6" y1="392.6" x2="204.6" y2="395.2" stroke="#E8282E" stroke-width="3.6"/>
<text x="196" y="369.75" font-size="8.15" text-anchor="end" fill="#E8282E" stroke="#E8282E" font-weight="normal" font-style="italic" >SE #170: NR4A2, +1.0 kb</text>
<text x="196" y="379.25" font-size="8.15" text-anchor="end" fill="#E8282E" stroke="#E8282E" font-weight="normal" font-style="italic" >SE #179: JUNB, −1.4 kb</text>
<text x="196" y="388.65" font-size="8.15" text-anchor="end" fill="#E8282E" stroke="#E8282E" font-weight="normal" font-style="italic" >SE #199: NEDD9, +10.1 kb</text>
<text x="196" y="397.45" font-size="8.15" text-anchor="end" fill="#E8282E" stroke="#E8282E" font-weight="normal" font-style="italic" >SE #499: NFIL3, +5.9 kb</text>
<line x1="196.5" y1="366.5" x2="207.5" y2="388" stroke="#E8282E" stroke-width="0.7"/>
<line x1="196.5" y1="375.8" x2="207" y2="389" stroke="#E8282E" stroke-width="0.7"/>
<line x1="196.5" y1="385.2" x2="206.8" y2="390" stroke="#E8282E" stroke-width="0.7"/>
<line x1="196.5" y1="394.2" x2="203.5" y2="394.2" stroke="#E8282E" stroke-width="0.7"/>
<text font-size="8.07" text-anchor="middle" fill="#222" stroke="#222" transform="translate(40.6,280.5) rotate(-90)">H3K27ac ChIP-seq signal - input signal (×10,000)</text>
<text x="132.4" y="423.6" font-size="8.15" text-anchor="middle" fill="#222" stroke="#222" font-weight="normal" font-style="normal" >H3K27ac ChIP-seq signal (×100)</text>
<text x="267" y="256.5" font-size="8.6" text-anchor="middle" fill="#000" stroke="none" font-weight="bold" font-style="normal" >D</text>
<line x1="302.4" y1="263.5" x2="302.4" y2="407.1" stroke="#333" stroke-width="0.8"/>
<line x1="302.4" y1="407.1" x2="490" y2="407.1" stroke="#333" stroke-width="0.8"/>
<line x1="300.6" y1="400.9" x2="302.4" y2="400.9" stroke="#333" stroke-width="0.7"/>
<text x="299.6" y="403.79999999999995" font-size="8" text-anchor="end" fill="#222" stroke="#222" font-weight="normal" font-style="normal" >0</text>
<line x1="300.6" y1="368.1" x2="302.4" y2="368.1" stroke="#333" stroke-width="0.7"/>
<text x="299.6" y="371.025" font-size="8" text-anchor="end" fill="#222" stroke="#222" font-weight="normal" font-style="normal" >50</text>
<line x1="300.6" y1="335.3" x2="302.4" y2="335.3" stroke="#333" stroke-width="0.7"/>
<text x="299.6" y="338.24999999999994" font-size="8" text-anchor="end" fill="#222" stroke="#222" font-weight="normal" font-style="normal" >100</text>
<line x1="300.6" y1="302.6" x2="302.4" y2="302.6" stroke="#333" stroke-width="0.7"/>
<text x="299.6" y="305.47499999999997" font-size="8" text-anchor="end" fill="#222" stroke="#222" font-weight="normal" font-style="normal" >150</text>
<line x1="300.6" y1="269.8" x2="302.4" y2="269.8" stroke="#333" stroke-width="0.7"/>
<text x="299.6" y="272.69999999999993" font-size="8" text-anchor="end" fill="#222" stroke="#222" font-weight="normal" font-style="normal" >200</text>
<text font-size="8.47" text-anchor="middle" fill="#222" stroke="#222" transform="translate(283,336.9) rotate(-90)">mCCS EA1 enrichment</text>
<line x1="338.1" y1="407.1" x2="338.1" y2="408.9" stroke="#333" stroke-width="0.7"/>
<line x1="397" y1="407.1" x2="397" y2="408.9" stroke="#333" stroke-width="0.7"/>
<line x1="456.3" y1="407.1" x2="456.3" y2="408.9" stroke="#333" stroke-width="0.7"/>
<line x1="337.6" y1="250.8" x2="456.5" y2="250.8" stroke="#555" stroke-width="0.9"/>
<line x1="337.6" y1="261.4" x2="396.7" y2="261.4" stroke="#555" stroke-width="0.9"/>
<line x1="397.4" y1="266" x2="456.5" y2="266" stroke="#555" stroke-width="0.9"/>
<text x="396.8" y="249" font-size="8" text-anchor="middle" fill="#222" stroke="#222"><tspan font-style="italic">p</tspan>&lt;0.0005</text>
<text x="366.2" y="259.2" font-size="8" text-anchor="middle" fill="#222" stroke="#222"><tspan font-style="italic">p</tspan>&lt;0.0005</text>
<text x="428.2" y="264.8" font-size="8" text-anchor="middle" fill="#222" stroke="#222"><tspan font-style="italic">p</tspan>&lt;0.0005</text>
<line x1="338.1" y1="377.2" x2="338.1" y2="389.5" stroke="#666" stroke-width="0.8"/>
<line x1="338.1" y1="397.3" x2="338.1" y2="400.3" stroke="#666" stroke-width="0.8"/>
<rect x="315.9" y="389.5" width="44.5" height="7.800000000000011" fill="#fff" stroke="#555" stroke-width="0.8"/>
<line x1="315.9" y1="394.7" x2="360.4" y2="394.7" stroke="#555" stroke-width="0.8"/>
<line x1="338.1" y1="336.5" x2="338.1" y2="377.2" stroke="#000" stroke-width="2"/>
<rect x="337.20000000000005" y="271.0" width="1.8" height="1.2" fill="#000"/>
<rect x="337.20000000000005" y="275.3" width="1.8" height="1.2" fill="#000"/>
<rect x="337.20000000000005" y="277.9" width="1.8" height="1.2" fill="#000"/>
<rect x="337.20000000000005" y="284.0" width="1.8" height="1.2" fill="#000"/>
<rect x="337.20000000000005" y="285.8" width="1.8" height="1.2" fill="#000"/>
<rect x="337.20000000000005" y="290.2" width="1.8" height="1.2" fill="#000"/>
<rect x="337.20000000000005" y="293.4" width="1.8" height="1.2" fill="#000"/>
<rect x="337.20000000000005" y="294.9" width="1.8" height="1.2" fill="#000"/>
<rect x="337.20000000000005" y="298.3" width="1.8" height="1.2" fill="#000"/>
<rect x="337.20000000000005" y="299.7" width="1.8" height="1.2" fill="#000"/>
<rect x="337.20000000000005" y="302.5" width="1.8" height="1.2" fill="#000"/>
<rect x="337.20000000000005" y="303.9" width="1.8" height="1.2" fill="#000"/>
<rect x="337.20000000000005" y="305.3" width="1.8" height="1.2" fill="#000"/>
<rect x="337.20000000000005" y="307.7" width="1.8" height="1.2" fill="#000"/>
<rect x="337.20000000000005" y="310.9" width="1.8" height="1.2" fill="#000"/>
<rect x="337.20000000000005" y="312.2" width="1.8" height="1.2" fill="#000"/>
<rect x="337.20000000000005" y="313.8" width="1.8" height="1.2" fill="#000"/>
<rect x="337.20000000000005" y="316.0" width="1.8" height="1.2" fill="#000"/>
<rect x="337.20000000000005" y="318.5" width="1.8" height="1.2" fill="#000"/>
<rect x="337.20000000000005" y="320.3" width="1.8" height="1.2" fill="#000"/>
<rect x="337.20000000000005" y="321.7" width="1.8" height="1.2" fill="#000"/>
<rect x="337.20000000000005" y="323.7" width="1.8" height="1.2" fill="#000"/>
<rect x="337.20000000000005" y="324.8" width="1.8" height="1.2" fill="#000"/>
<rect x="337.20000000000005" y="326.3" width="1.8" height="1.2" fill="#000"/>
<rect x="337.20000000000005" y="327.5" width="1.8" height="1.2" fill="#000"/>
<rect x="337.20000000000005" y="328.6" width="1.8" height="1.2" fill="#000"/>
<rect x="337.20000000000005" y="329.7" width="1.8" height="1.2" fill="#000"/>
<rect x="337.20000000000005" y="330.8" width="1.8" height="1.2" fill="#000"/>
<rect x="337.20000000000005" y="332.0" width="1.8" height="1.2" fill="#000"/>
<rect x="337.20000000000005" y="333.0" width="1.8" height="1.2" fill="#000"/>
<rect x="337.20000000000005" y="334.1" width="1.8" height="1.2" fill="#000"/>
<rect x="337.20000000000005" y="335.1" width="1.8" height="1.2" fill="#000"/>
<rect x="337.20000000000005" y="336.1" width="1.8" height="1.2" fill="#000"/>
<line x1="397" y1="372" x2="397" y2="386" stroke="#666" stroke-width="0.8"/>
<line x1="397" y1="396" x2="397" y2="400.2" stroke="#666" stroke-width="0.8"/>
<rect x="374.5" y="386" width="45.30000000000001" height="10" fill="#fff" stroke="#555" stroke-width="0.8"/>
<line x1="374.5" y1="392.4" x2="419.8" y2="392.4" stroke="#555" stroke-width="0.8"/>
<line x1="397" y1="298.6" x2="397" y2="372" stroke="#000" stroke-width="2"/>
<rect x="396.1" y="273.9" width="1.8" height="1.2" fill="#000"/>
<rect x="396.1" y="275.9" width="1.8" height="1.2" fill="#000"/>
<rect x="396.1" y="277.8" width="1.8" height="1.2" fill="#000"/>
<rect x="396.1" y="280.6" width="1.8" height="1.2" fill="#000"/>
<rect x="396.1" y="285.5" width="1.8" height="1.2" fill="#000"/>
<rect x="396.1" y="288.1" width="1.8" height="1.2" fill="#000"/>
<rect x="396.1" y="290.0" width="1.8" height="1.2" fill="#000"/>
<rect x="396.1" y="292.1" width="1.8" height="1.2" fill="#000"/>
<rect x="396.1" y="293.7" width="1.8" height="1.2" fill="#000"/>
<rect x="396.1" y="295.0" width="1.8" height="1.2" fill="#000"/>
<rect x="396.1" y="296.4" width="1.8" height="1.2" fill="#000"/>
<rect x="396.1" y="297.5" width="1.8" height="1.2" fill="#000"/>
<rect x="396.1" y="298.6" width="1.8" height="1.2" fill="#000"/>
<line x1="456.3" y1="336.5" x2="456.3" y2="371.2" stroke="#666" stroke-width="0.8"/>
<line x1="456.3" y1="395.2" x2="456.3" y2="399.8" stroke="#666" stroke-width="0.8"/>
<rect x="434" y="371.2" width="44.60000000000002" height="24.0" fill="#fff" stroke="#555" stroke-width="0.8"/>
<line x1="434" y1="388.8" x2="478.6" y2="388.8" stroke="#555" stroke-width="0.8"/>
<line x1="456.3" y1="298.6" x2="456.3" y2="336.5" stroke="#000" stroke-width="2"/>
<rect x="455.40000000000003" y="275.4" width="1.8" height="1.2" fill="#000"/>
<rect x="455.40000000000003" y="281.4" width="1.8" height="1.2" fill="#000"/>
<rect x="455.40000000000003" y="287.4" width="1.8" height="1.2" fill="#000"/>
<rect x="455.40000000000003" y="290.7" width="1.8" height="1.2" fill="#000"/>
<rect x="455.40000000000003" y="292.3" width="1.8" height="1.2" fill="#000"/>
<rect x="455.40000000000003" y="294.5" width="1.8" height="1.2" fill="#000"/>
<rect x="455.40000000000003" y="295.6" width="1.8" height="1.2" fill="#000"/>
<rect x="455.40000000000003" y="296.8" width="1.8" height="1.2" fill="#000"/>
<rect x="455.40000000000003" y="298.0" width="1.8" height="1.2" fill="#000"/>
<text x="338" y="414.6" font-size="8" text-anchor="middle" fill="#222" stroke="#222" font-weight="normal" font-style="normal" >promoter-</text>
<text x="338" y="424.3" font-size="8" text-anchor="middle" fill="#222" stroke="#222" font-weight="normal" font-style="normal" >associated</text>
<text x="397" y="414.6" font-size="8" text-anchor="middle" fill="#222" stroke="#222" font-weight="normal" font-style="normal" >distal</text>
<text x="456.6" y="414.6" font-size="8" text-anchor="middle" fill="#222" stroke="#222" font-weight="normal" font-style="normal" >SE-</text>
<text x="456.3" y="424.6" font-size="8" text-anchor="middle" fill="#222" stroke="#222" font-weight="normal" font-style="normal" >associated</text>
<text x="10.2" y="445" font-size="8.6" text-anchor="middle" fill="#000" stroke="none" font-weight="bold" font-style="normal" >E</text>
<line x1="70.6" y1="470.8" x2="68.7" y2="524.5" stroke="#222" stroke-width="0.65"/>
<line x1="70.6" y1="470.8" x2="136.6" y2="524.5" stroke="#222" stroke-width="0.65"/>
<line x1="70.6" y1="470.8" x2="166.8" y2="524.5" stroke="#222" stroke-width="0.65"/>
<line x1="109.2" y1="470.8" x2="68.7" y2="524.5" stroke="#222" stroke-width="0.65"/>
<line x1="109.2" y1="470.8" x2="104.3" y2="524.5" stroke="#222" stroke-width="0.65"/>
<line x1="109.2" y1="470.8" x2="225.2" y2="524.5" stroke="#222" stroke-width="0.65"/>
<line x1="109.2" y1="470.8" x2="354.9" y2="524.5" stroke="#222" stroke-width="0.65"/>
<line x1="109.2" y1="470.8" x2="489.7" y2="524.5" stroke="#222" stroke-width="0.65"/>
<line x1="145.1" y1="470.8" x2="225.2" y2="524.5" stroke="#222" stroke-width="0.65"/>
<line x1="145.1" y1="470.8" x2="305.1" y2="524.5" stroke="#222" stroke-width="0.65"/>
<line x1="145.1" y1="470.8" x2="426.3" y2="524.5" stroke="#222" stroke-width="0.65"/>
<line x1="176.4" y1="470.8" x2="136.6" y2="524.5" stroke="#222" stroke-width="0.65"/>
<line x1="176.4" y1="470.8" x2="196.1" y2="524.5" stroke="#222" stroke-width="0.65"/>
<line x1="207.2" y1="470.8" x2="354.9" y2="524.5" stroke="#222" stroke-width="0.65"/>
<line x1="207.2" y1="470.8" x2="402.4" y2="524.5" stroke="#222" stroke-width="0.65"/>
<line x1="207.2" y1="470.8" x2="507.0" y2="524.5" stroke="#222" stroke-width="0.65"/>
<line x1="236.0" y1="470.8" x2="166.8" y2="524.5" stroke="#222" stroke-width="0.65"/>
<line x1="236.0" y1="470.8" x2="329.5" y2="524.5" stroke="#222" stroke-width="0.65"/>
<line x1="236.0" y1="470.8" x2="489.7" y2="524.5" stroke="#222" stroke-width="0.65"/>
<line x1="264.5" y1="470.8" x2="196.1" y2="524.5" stroke="#222" stroke-width="0.65"/>
<line x1="264.5" y1="470.8" x2="225.2" y2="524.5" stroke="#222" stroke-width="0.65"/>
<line x1="264.5" y1="470.8" x2="378.7" y2="524.5" stroke="#222" stroke-width="0.65"/>
<line x1="290.2" y1="470.8" x2="279.9" y2="524.5" stroke="#222" stroke-width="0.65"/>
<line x1="290.2" y1="470.8" x2="449.9" y2="524.5" stroke="#222" stroke-width="0.65"/>
<line x1="314.6" y1="470.8" x2="104.3" y2="524.5" stroke="#222" stroke-width="0.65"/>
<line x1="314.6" y1="470.8" x2="166.8" y2="524.5" stroke="#222" stroke-width="0.65"/>
<line x1="314.6" y1="470.8" x2="525.5" y2="524.5" stroke="#222" stroke-width="0.65"/>
<line x1="337.6" y1="470.8" x2="253.3" y2="524.5" stroke="#222" stroke-width="0.65"/>
<line x1="337.6" y1="470.8" x2="329.5" y2="524.5" stroke="#222" stroke-width="0.65"/>
<line x1="337.6" y1="470.8" x2="525.5" y2="524.5" stroke="#222" stroke-width="0.65"/>
<line x1="360.8" y1="470.8" x2="253.3" y2="524.5" stroke="#222" stroke-width="0.65"/>
<line x1="360.8" y1="470.8" x2="305.1" y2="524.5" stroke="#222" stroke-width="0.65"/>
<line x1="360.8" y1="470.8" x2="525.5" y2="524.5" stroke="#222" stroke-width="0.65"/>
<line x1="383.5" y1="470.8" x2="225.2" y2="524.5" stroke="#222" stroke-width="0.65"/>
<line x1="383.5" y1="470.8" x2="329.5" y2="524.5" stroke="#222" stroke-width="0.65"/>
<line x1="383.5" y1="470.8" x2="449.9" y2="524.5" stroke="#222" stroke-width="0.65"/>
<line x1="404.2" y1="470.8" x2="426.3" y2="524.5" stroke="#222" stroke-width="0.65"/>
<line x1="424.2" y1="470.8" x2="136.6" y2="524.5" stroke="#222" stroke-width="0.65"/>
<line x1="424.2" y1="470.8" x2="378.7" y2="524.5" stroke="#222" stroke-width="0.65"/>
<line x1="443.1" y1="470.8" x2="253.3" y2="524.5" stroke="#222" stroke-width="0.65"/>
<line x1="443.1" y1="470.8" x2="305.1" y2="524.5" stroke="#222" stroke-width="0.65"/>
<line x1="460.2" y1="470.8" x2="279.9" y2="524.5" stroke="#222" stroke-width="0.65"/>
<line x1="460.2" y1="470.8" x2="489.7" y2="524.5" stroke="#222" stroke-width="0.65"/>
<line x1="475.5" y1="470.8" x2="354.9" y2="524.5" stroke="#222" stroke-width="0.65"/>
<line x1="491.4" y1="470.8" x2="489.7" y2="524.5" stroke="#222" stroke-width="0.65"/>
<line x1="491.4" y1="470.8" x2="507.0" y2="524.5" stroke="#222" stroke-width="0.65"/>
<line x1="505.3" y1="470.8" x2="253.3" y2="524.5" stroke="#222" stroke-width="0.65"/>
<line x1="505.3" y1="470.8" x2="279.9" y2="524.5" stroke="#222" stroke-width="0.65"/>
<line x1="505.3" y1="470.8" x2="305.1" y2="524.5" stroke="#222" stroke-width="0.65"/>
<line x1="505.3" y1="470.8" x2="329.5" y2="524.5" stroke="#222" stroke-width="0.65"/>
<line x1="518.1" y1="470.8" x2="104.3" y2="524.5" stroke="#222" stroke-width="0.65"/>
<line x1="529.3" y1="470.8" x2="489.7" y2="524.5" stroke="#222" stroke-width="0.65"/>
<line x1="539.5" y1="470.8" x2="449.9" y2="524.5" stroke="#222" stroke-width="0.65"/>
<rect x="52.5" y="461.6" width="36.2" height="9.2" rx="1.8" fill="#A3CDF0" stroke="#79A9D4" stroke-width="0.75"/>
<text x="70.6" y="447.7" font-size="8" text-anchor="middle" fill="#000" stroke="#000" font-weight="normal" font-style="normal" >8</text>
<text x="70.6" y="458.3" font-size="8" text-anchor="middle" fill="#000" stroke="#000" font-weight="normal" font-style="normal" >1</text>
<rect x="91.5" y="461.6" width="35.3" height="9.2" rx="1.8" fill="#8E77C0" stroke="#6A579E" stroke-width="0.75"/>
<text x="109.2" y="447.7" font-size="8" text-anchor="middle" fill="#000" stroke="#000" font-weight="normal" font-style="normal" >12</text>
<text x="109.2" y="458.3" font-size="8" text-anchor="middle" fill="#000" stroke="#000" font-weight="normal" font-style="normal" >2</text>
<rect x="130.2" y="461.6" width="29.8" height="9.2" rx="1.8" fill="#A3CDF0" stroke="#79A9D4" stroke-width="0.75"/>
<text x="145.1" y="447.7" font-size="8" text-anchor="middle" fill="#000" stroke="#000" font-weight="normal" font-style="normal" >5</text>
<text x="145.1" y="458.3" font-size="8" text-anchor="middle" fill="#000" stroke="#000" font-weight="normal" font-style="normal" >3</text>
<rect x="162.7" y="461.6" width="27.5" height="9.2" rx="1.8" fill="#8E77C0" stroke="#6A579E" stroke-width="0.75"/>
<text x="176.4" y="447.7" font-size="8" text-anchor="middle" fill="#000" stroke="#000" font-weight="normal" font-style="normal" >3</text>
<text x="176.4" y="458.3" font-size="8" text-anchor="middle" fill="#000" stroke="#000" font-weight="normal" font-style="normal" >4</text>
<rect x="194.5" y="461.6" width="25.5" height="9.2" rx="1.8" fill="#A3CDF0" stroke="#79A9D4" stroke-width="0.75"/>
<text x="207.2" y="447.7" font-size="8" text-anchor="middle" fill="#000" stroke="#000" font-weight="normal" font-style="normal" >3</text>
<text x="207.2" y="458.3" font-size="8" text-anchor="middle" fill="#000" stroke="#000" font-weight="normal" font-style="normal" >5</text>
<rect x="223.3" y="461.6" width="25.4" height="9.2" rx="1.8" fill="#8E77C0" stroke="#6A579E" stroke-width="0.75"/>
<text x="236.0" y="447.7" font-size="8" text-anchor="middle" fill="#000" stroke="#000" font-weight="normal" font-style="normal" >7</text>
<text x="236.0" y="458.3" font-size="8" text-anchor="middle" fill="#000" stroke="#000" font-weight="normal" font-style="normal" >6</text>
<rect x="252.3" y="461.6" width="24.3" height="9.2" rx="1.8" fill="#A3CDF0" stroke="#79A9D4" stroke-width="0.75"/>
<text x="264.5" y="447.7" font-size="8" text-anchor="middle" fill="#000" stroke="#000" font-weight="normal" font-style="normal" >3</text>
<text x="264.5" y="458.3" font-size="8" text-anchor="middle" fill="#000" stroke="#000" font-weight="normal" font-style="normal" >7</text>
<rect x="279.4" y="461.6" width="21.6" height="9.2" rx="1.8" fill="#8E77C0" stroke="#6A579E" stroke-width="0.75"/>
<text x="290.2" y="447.7" font-size="8" text-anchor="middle" fill="#000" stroke="#000" font-weight="normal" font-style="normal" >5</text>
<text x="290.2" y="458.3" font-size="8" text-anchor="middle" fill="#000" stroke="#000" font-weight="normal" font-style="normal" >8</text>
<rect x="303.8" y="461.6" width="21.7" height="9.2" rx="1.8" fill="#A3CDF0" stroke="#79A9D4" stroke-width="0.75"/>
<text x="314.6" y="447.7" font-size="8" text-anchor="middle" fill="#000" stroke="#000" font-weight="normal" font-style="normal" >7</text>
<text x="314.6" y="458.3" font-size="8" text-anchor="middle" fill="#000" stroke="#000" font-weight="normal" font-style="normal" >9</text>
<rect x="327.5" y="461.6" width="20.1" height="9.2" rx="1.8" fill="#8E77C0" stroke="#6A579E" stroke-width="0.75"/>
<text x="337.6" y="447.7" font-size="8" text-anchor="middle" fill="#000" stroke="#000" font-weight="normal" font-style="normal" >3</text>
<text x="337.6" y="458.3" font-size="8" text-anchor="middle" fill="#000" stroke="#000" font-weight="normal" font-style="normal" >10</text>
<rect x="351" y="461.6" width="19.5" height="9.2" rx="1.8" fill="#A3CDF0" stroke="#79A9D4" stroke-width="0.75"/>
<text x="360.8" y="447.7" font-size="8" text-anchor="middle" fill="#000" stroke="#000" font-weight="normal" font-style="normal" >8</text>
<text x="360.8" y="458.3" font-size="8" text-anchor="middle" fill="#000" stroke="#000" font-weight="normal" font-style="normal" >11</text>
<rect x="373.8" y="461.6" width="19.4" height="9.2" rx="1.8" fill="#8E77C0" stroke="#6A579E" stroke-width="0.75"/>
<text x="383.5" y="447.7" font-size="8" text-anchor="middle" fill="#000" stroke="#000" font-weight="normal" font-style="normal" >12</text>
<text x="383.5" y="458.3" font-size="8" text-anchor="middle" fill="#000" stroke="#000" font-weight="normal" font-style="normal" >12</text>
<rect x="395.8" y="461.6" width="16.9" height="9.2" rx="1.8" fill="#A3CDF0" stroke="#79A9D4" stroke-width="0.75"/>
<text x="404.2" y="447.7" font-size="8" text-anchor="middle" fill="#000" stroke="#000" font-weight="normal" font-style="normal" >1</text>
<text x="404.2" y="458.3" font-size="8" text-anchor="middle" fill="#000" stroke="#000" font-weight="normal" font-style="normal" >13</text>
<rect x="416.2" y="461.6" width="16.0" height="9.2" rx="1.8" fill="#8E77C0" stroke="#6A579E" stroke-width="0.75"/>
<text x="424.2" y="447.7" font-size="8" text-anchor="middle" fill="#000" stroke="#000" font-weight="normal" font-style="normal" >6</text>
<text x="424.2" y="458.3" font-size="8" text-anchor="middle" fill="#000" stroke="#000" font-weight="normal" font-style="normal" >14</text>
<rect x="435.1" y="461.6" width="16.0" height="9.2" rx="1.8" fill="#A3CDF0" stroke="#79A9D4" stroke-width="0.75"/>
<text x="443.1" y="447.7" font-size="8" text-anchor="middle" fill="#000" stroke="#000" font-weight="normal" font-style="normal" >1</text>
<text x="443.1" y="458.3" font-size="8" text-anchor="middle" fill="#000" stroke="#000" font-weight="normal" font-style="normal" >15</text>
<rect x="453.4" y="461.6" width="13.7" height="9.2" rx="1.8" fill="#8E77C0" stroke="#6A579E" stroke-width="0.75"/>
<text x="460.2" y="447.7" font-size="8" text-anchor="middle" fill="#000" stroke="#000" font-weight="normal" font-style="normal" >6</text>
<text x="460.2" y="458.3" font-size="8" text-anchor="middle" fill="#000" stroke="#000" font-weight="normal" font-style="normal" >16</text>
<rect x="469.4" y="461.6" width="12.2" height="9.2" rx="1.8" fill="#A3CDF0" stroke="#79A9D4" stroke-width="0.75"/>
<text x="475.5" y="447.7" font-size="8" text-anchor="middle" fill="#000" stroke="#000" font-weight="normal" font-style="normal" >12</text>
<text x="475.5" y="458.3" font-size="8" text-anchor="middle" fill="#000" stroke="#000" font-weight="normal" font-style="normal" >17</text>
<rect x="484.5" y="461.6" width="13.7" height="9.2" rx="1.8" fill="#8E77C0" stroke="#6A579E" stroke-width="0.75"/>
<text x="491.4" y="447.7" font-size="8" text-anchor="middle" fill="#000" stroke="#000" font-weight="normal" font-style="normal" >4</text>
<text x="491.4" y="458.3" font-size="8" text-anchor="middle" fill="#000" stroke="#000" font-weight="normal" font-style="normal" >18</text>
<rect x="500.5" y="461.6" width="9.6" height="9.2" rx="1.8" fill="#A3CDF0" stroke="#79A9D4" stroke-width="0.75"/>
<text x="505.3" y="447.7" font-size="8" text-anchor="middle" fill="#000" stroke="#000" font-weight="normal" font-style="normal" >19</text>
<text x="505.3" y="458.3" font-size="8" text-anchor="middle" fill="#000" stroke="#000" font-weight="normal" font-style="normal" >19</text>
<rect x="513" y="461.6" width="10.2" height="9.2" rx="1.8" fill="#8E77C0" stroke="#6A579E" stroke-width="0.75"/>
<text x="518.1" y="447.7" font-size="8" text-anchor="middle" fill="#000" stroke="#000" font-weight="normal" font-style="normal" >1</text>
<text x="518.1" y="458.3" font-size="8" text-anchor="middle" fill="#000" stroke="#000" font-weight="normal" font-style="normal" >20</text>
<rect x="526.1" y="461.6" width="6.4" height="9.2" rx="1.8" fill="#A3CDF0" stroke="#79A9D4" stroke-width="0.75"/>
<text x="529.3" y="447.7" font-size="8" text-anchor="middle" fill="#000" stroke="#000" font-weight="normal" font-style="normal" >1</text>
<text x="529.3" y="458.3" font-size="8" text-anchor="middle" fill="#000" stroke="#000" font-weight="normal" font-style="normal" >21</text>
<rect x="536.3" y="461.6" width="6.4" height="9.2" rx="1.8" fill="#8E77C0" stroke="#6A579E" stroke-width="0.75"/>
<text x="539.5" y="447.7" font-size="8" text-anchor="middle" fill="#000" stroke="#000" font-weight="normal" font-style="normal" >5</text>
<text x="539.5" y="458.3" font-size="8" text-anchor="middle" fill="#000" stroke="#000" font-weight="normal" font-style="normal" >22</text>
<rect x="52.2" y="524.5" width="33.0" height="8.8" rx="1.8" fill="#A3CDF0" stroke="#79A9D4" stroke-width="0.75"/>
<text x="68.7" y="541.2" font-size="8" text-anchor="middle" fill="#000" stroke="#000" font-weight="normal" font-style="normal" >1</text>
<text x="68.7" y="552.9" font-size="8" text-anchor="middle" fill="#000" stroke="#000" font-weight="normal" font-style="normal" >8</text>
<rect x="88.5" y="524.5" width="31.7" height="8.8" rx="1.8" fill="#8E77C0" stroke="#6A579E" stroke-width="0.75"/>
<text x="104.3" y="541.2" font-size="8" text-anchor="middle" fill="#000" stroke="#000" font-weight="normal" font-style="normal" >2</text>
<text x="104.3" y="552.9" font-size="8" text-anchor="middle" fill="#000" stroke="#000" font-weight="normal" font-style="normal" >6</text>
<rect x="123.1" y="524.5" width="27.0" height="8.8" rx="1.8" fill="#A3CDF0" stroke="#79A9D4" stroke-width="0.75"/>
<text x="136.6" y="541.2" font-size="8" text-anchor="middle" fill="#000" stroke="#000" font-weight="normal" font-style="normal" >3</text>
<text x="136.6" y="552.9" font-size="8" text-anchor="middle" fill="#000" stroke="#000" font-weight="normal" font-style="normal" >5</text>
<rect x="153.1" y="524.5" width="27.3" height="8.8" rx="1.8" fill="#8E77C0" stroke="#6A579E" stroke-width="0.75"/>
<text x="166.8" y="541.2" font-size="8" text-anchor="middle" fill="#000" stroke="#000" font-weight="normal" font-style="normal" >4</text>
<text x="166.8" y="552.9" font-size="8" text-anchor="middle" fill="#000" stroke="#000" font-weight="normal" font-style="normal" >5</text>
<rect x="183.3" y="524.5" width="25.6" height="8.8" rx="1.8" fill="#A3CDF0" stroke="#79A9D4" stroke-width="0.75"/>
<text x="196.1" y="541.2" font-size="8" text-anchor="middle" fill="#000" stroke="#000" font-weight="normal" font-style="normal" >5</text>
<text x="196.1" y="552.9" font-size="8" text-anchor="middle" fill="#000" stroke="#000" font-weight="normal" font-style="normal" >10</text>
<rect x="212.4" y="524.5" width="25.6" height="8.8" rx="1.8" fill="#8E77C0" stroke="#6A579E" stroke-width="0.75"/>
<text x="225.2" y="541.2" font-size="8" text-anchor="middle" fill="#000" stroke="#000" font-weight="normal" font-style="normal" >6</text>
<text x="225.2" y="552.9" font-size="8" text-anchor="middle" fill="#000" stroke="#000" font-weight="normal" font-style="normal" >5</text>
<rect x="240.9" y="524.5" width="24.8" height="8.8" rx="1.8" fill="#A3CDF0" stroke="#79A9D4" stroke-width="0.75"/>
<text x="253.3" y="541.2" font-size="8" text-anchor="middle" fill="#000" stroke="#000" font-weight="normal" font-style="normal" >7</text>
<text x="253.3" y="552.9" font-size="8" text-anchor="middle" fill="#000" stroke="#000" font-weight="normal" font-style="normal" >12</text>
<rect x="269.3" y="524.5" width="21.2" height="8.8" rx="1.8" fill="#8E77C0" stroke="#6A579E" stroke-width="0.75"/>
<text x="279.9" y="541.2" font-size="8" text-anchor="middle" fill="#000" stroke="#000" font-weight="normal" font-style="normal" >8</text>
<text x="279.9" y="552.9" font-size="8" text-anchor="middle" fill="#000" stroke="#000" font-weight="normal" font-style="normal" >9</text>
<rect x="294.3" y="524.5" width="21.6" height="8.8" rx="1.8" fill="#A3CDF0" stroke="#79A9D4" stroke-width="0.75"/>
<text x="305.1" y="541.2" font-size="8" text-anchor="middle" fill="#000" stroke="#000" font-weight="normal" font-style="normal" >9</text>
<text x="305.1" y="552.9" font-size="8" text-anchor="middle" fill="#000" stroke="#000" font-weight="normal" font-style="normal" >5</text>
<rect x="319" y="524.5" width="21.0" height="8.8" rx="1.8" fill="#8E77C0" stroke="#6A579E" stroke-width="0.75"/>
<text x="329.5" y="541.2" font-size="8" text-anchor="middle" fill="#000" stroke="#000" font-weight="normal" font-style="normal" >10</text>
<text x="329.5" y="552.9" font-size="8" text-anchor="middle" fill="#000" stroke="#000" font-weight="normal" font-style="normal" >11</text>
<rect x="344.4" y="524.5" width="20.9" height="8.8" rx="1.8" fill="#A3CDF0" stroke="#79A9D4" stroke-width="0.75"/>
<text x="354.9" y="541.2" font-size="8" text-anchor="middle" fill="#000" stroke="#000" font-weight="normal" font-style="normal" >11</text>
<text x="354.9" y="552.9" font-size="8" text-anchor="middle" fill="#000" stroke="#000" font-weight="normal" font-style="normal" >11</text>
<rect x="368.5" y="524.5" width="20.4" height="8.8" rx="1.8" fill="#8E77C0" stroke="#6A579E" stroke-width="0.75"/>
<text x="378.7" y="541.2" font-size="8" text-anchor="middle" fill="#000" stroke="#000" font-weight="normal" font-style="normal" >12</text>
<text x="378.7" y="552.9" font-size="8" text-anchor="middle" fill="#000" stroke="#000" font-weight="normal" font-style="normal" >6</text>
<rect x="392.4" y="524.5" width="20.1" height="8.8" rx="1.8" fill="#A3CDF0" stroke="#79A9D4" stroke-width="0.75"/>
<text x="402.4" y="541.2" font-size="8" text-anchor="middle" fill="#000" stroke="#000" font-weight="normal" font-style="normal" >13</text>
<text x="402.4" y="552.9" font-size="8" text-anchor="middle" fill="#000" stroke="#000" font-weight="normal" font-style="normal" >2</text>
<rect x="415.8" y="524.5" width="21.0" height="8.8" rx="1.8" fill="#8E77C0" stroke="#6A579E" stroke-width="0.75"/>
<text x="426.3" y="541.2" font-size="8" text-anchor="middle" fill="#000" stroke="#000" font-weight="normal" font-style="normal" >14</text>
<text x="426.3" y="552.9" font-size="8" text-anchor="middle" fill="#000" stroke="#000" font-weight="normal" font-style="normal" >2</text>
<rect x="440.4" y="524.5" width="19.1" height="8.8" rx="1.8" fill="#A3CDF0" stroke="#79A9D4" stroke-width="0.75"/>
<text x="449.9" y="541.2" font-size="8" text-anchor="middle" fill="#000" stroke="#000" font-weight="normal" font-style="normal" >15</text>
<text x="449.9" y="552.9" font-size="8" text-anchor="middle" fill="#000" stroke="#000" font-weight="normal" font-style="normal" >9</text>
<rect x="462.2" y="524.5" width="16.9" height="8.8" rx="1.8" fill="#8E77C0" stroke="#6A579E" stroke-width="0.75"/>
<text x="470.6" y="541.2" font-size="8" text-anchor="middle" fill="#000" stroke="#000" font-weight="normal" font-style="normal" >16</text>
<text x="470.6" y="552.9" font-size="8" text-anchor="middle" fill="#000" stroke="#000" font-weight="normal" font-style="normal" >0</text>
<rect x="481.8" y="524.5" width="15.8" height="8.8" rx="1.8" fill="#A3CDF0" stroke="#79A9D4" stroke-width="0.75"/>
<text x="489.7" y="541.2" font-size="8" text-anchor="middle" fill="#000" stroke="#000" font-weight="normal" font-style="normal" >17</text>
<text x="489.7" y="552.9" font-size="8" text-anchor="middle" fill="#000" stroke="#000" font-weight="normal" font-style="normal" >8</text>
<rect x="499.5" y="524.5" width="15.0" height="8.8" rx="1.8" fill="#8E77C0" stroke="#6A579E" stroke-width="0.75"/>
<text x="507.0" y="541.2" font-size="8" text-anchor="middle" fill="#000" stroke="#000" font-weight="normal" font-style="normal" >18</text>
<text x="507.0" y="552.9" font-size="8" text-anchor="middle" fill="#000" stroke="#000" font-weight="normal" font-style="normal" >6</text>
<rect x="518.6" y="524.5" width="13.7" height="8.8" rx="1.8" fill="#A3CDF0" stroke="#79A9D4" stroke-width="0.75"/>
<text x="525.5" y="541.2" font-size="8" text-anchor="middle" fill="#000" stroke="#000" font-weight="normal" font-style="normal" >19</text>
<text x="525.5" y="552.9" font-size="8" text-anchor="middle" fill="#000" stroke="#000" font-weight="normal" font-style="normal" >6</text>
<text x="58" y="447.7" font-size="8" text-anchor="end" fill="#000" stroke="#000" font-weight="normal" font-style="normal" ># of SE’s:</text>
<text x="58" y="458.3" font-size="8" text-anchor="end" fill="#000" stroke="#000" font-weight="normal" font-style="normal" >Chr:</text>
<text x="45.8" y="469.8" font-size="8" text-anchor="end" fill="#000" stroke="#000" font-weight="normal" font-style="normal" >Human</text>
<text x="45.8" y="531.8" font-size="8" text-anchor="end" fill="#000" stroke="#000" font-weight="normal" font-style="normal" >Mouse</text>
<text x="58" y="541.2" font-size="8" text-anchor="end" fill="#000" stroke="#000" font-weight="normal" font-style="normal" >Chr:</text>
<text x="58" y="552.9" font-size="8" text-anchor="end" fill="#000" stroke="#000" font-weight="normal" font-style="normal" ># of SE’s:</text>
<text x="10.6" y="571.1" font-size="8.6" text-anchor="middle" fill="#000" stroke="none" font-weight="bold" font-style="normal" >F</text>
<rect x="70.9" y="580.5" width="125.29999999999998" height="124.0" fill="#fff"/>
<line x1="95.8" y1="580.5" x2="95.8" y2="704.5" stroke="#D4D4D4" stroke-width="0.7"/>
<line x1="120.9" y1="580.5" x2="120.9" y2="704.5" stroke="#D4D4D4" stroke-width="0.7"/>
<line x1="146.0" y1="580.5" x2="146.0" y2="704.5" stroke="#D4D4D4" stroke-width="0.7"/>
<line x1="171.1" y1="580.5" x2="171.1" y2="704.5" stroke="#D4D4D4" stroke-width="0.7"/>
<line x1="70.9" y1="605.3" x2="196.2" y2="605.3" stroke="#D4D4D4" stroke-width="0.7"/>
<line x1="70.9" y1="630.1" x2="196.2" y2="630.1" stroke="#D4D4D4" stroke-width="0.7"/>
<line x1="70.9" y1="654.9" x2="196.2" y2="654.9" stroke="#D4D4D4" stroke-width="0.7"/>
<line x1="70.9" y1="679.7" x2="196.2" y2="679.7" stroke="#D4D4D4" stroke-width="0.7"/>
<rect x="70.9" y="580.5" width="125.29999999999998" height="124.0" fill="none" stroke="#999" stroke-width="0.7"/>
<text x="70.7" y="714.4" font-size="8" text-anchor="middle" fill="#222" stroke="#222" font-weight="normal" font-style="normal" >−100</text>
<text x="95.8" y="714.4" font-size="8" text-anchor="middle" fill="#222" stroke="#222" font-weight="normal" font-style="normal" >−50</text>
<text x="120.9" y="714.4" font-size="8" text-anchor="middle" fill="#222" stroke="#222" font-weight="normal" font-style="normal" >0</text>
<text x="146.0" y="714.4" font-size="8" text-anchor="middle" fill="#222" stroke="#222" font-weight="normal" font-style="normal" >50</text>
<text x="171.1" y="714.4" font-size="8" text-anchor="middle" fill="#222" stroke="#222" font-weight="normal" font-style="normal" >100</text>
<text x="196.3" y="714.4" font-size="8" text-anchor="middle" fill="#222" stroke="#222" font-weight="normal" font-style="normal" >150</text>
<text x="69.2" y="583.3" font-size="8" text-anchor="end" fill="#222" stroke="#222" font-weight="normal" font-style="normal" >150</text>
<text x="69.2" y="608.2" font-size="8" text-anchor="end" fill="#222" stroke="#222" font-weight="normal" font-style="normal" >100</text>
<text x="69.2" y="633.0" font-size="8" text-anchor="end" fill="#222" stroke="#222" font-weight="normal" font-style="normal" >50</text>
<text x="69.2" y="657.8" font-size="8" text-anchor="end" fill="#222" stroke="#222" font-weight="normal" font-style="normal" >0</text>
<text x="69.2" y="682.6" font-size="8" text-anchor="end" fill="#222" stroke="#222" font-weight="normal" font-style="normal" >−50</text>
<text x="69.2" y="707.4" font-size="8" text-anchor="end" fill="#222" stroke="#222" font-weight="normal" font-style="normal" >−100</text>
<text x="133.2" y="576.3" font-size="8.2" text-anchor="middle" fill="#111" stroke="#111">genes near a syntenic SE (<tspan font-style="italic">n</tspan>=123)</text>
<text x="75.2" y="589.4" font-size="7.5" fill="#222" stroke="#222">R<tspan font-size="5" dy="-2.6">2</tspan><tspan dy="2.6">=0.7443</tspan></text>
<text x="133.9" y="727.3" font-size="8" text-anchor="middle" fill="#222" stroke="#222" font-weight="normal" font-style="normal" >distance from SE to TSS, mouse (kb)</text>
<text font-size="8.09" text-anchor="middle" fill="#222" stroke="#222" transform="translate(50.6,641.8) rotate(-90)">distance from SE to TSS, human (kb)</text>
<line x1="78.3" y1="694.7" x2="178.7" y2="599.6" stroke="#000" stroke-width="1.6"/>
<circle cx="169.8" cy="589.9" r="1.45" fill="#000"/>
<circle cx="156.3" cy="599.4" r="1.45" fill="#000"/>
<circle cx="178.0" cy="599.4" r="1.45" fill="#000"/>
<circle cx="175.7" cy="612.6" r="1.45" fill="#000"/>
<circle cx="157.9" cy="613.8" r="1.45" fill="#000"/>
<circle cx="136.9" cy="614.3" r="1.45" fill="#000"/>
<circle cx="148.0" cy="617.8" r="1.45" fill="#000"/>
<circle cx="148.0" cy="620.7" r="1.45" fill="#000"/>
<circle cx="148.0" cy="623.3" r="1.45" fill="#000"/>
<circle cx="137.4" cy="632.5" r="1.45" fill="#000"/>
<circle cx="139.7" cy="633.2" r="1.45" fill="#000"/>
<circle cx="136.2" cy="636.7" r="1.45" fill="#000"/>
<circle cx="138.5" cy="635.0" r="1.45" fill="#000"/>
<circle cx="140.9" cy="643.4" r="1.45" fill="#000"/>
<circle cx="122.5" cy="639.6" r="1.45" fill="#000"/>
<circle cx="126.7" cy="642.0" r="1.45" fill="#000"/>
<circle cx="78.3" cy="650.9" r="1.45" fill="#000"/>
<circle cx="109.5" cy="656.1" r="1.45" fill="#000"/>
<circle cx="103.6" cy="658.7" r="1.45" fill="#000"/>
<circle cx="107.4" cy="662.3" r="1.45" fill="#000"/>
<circle cx="113.7" cy="665.8" r="1.45" fill="#000"/>
<circle cx="111.0" cy="664.0" r="1.45" fill="#000"/>
<circle cx="106.6" cy="673.4" r="1.45" fill="#000"/>
<circle cx="105.5" cy="675.7" r="1.45" fill="#000"/>
<circle cx="93.6" cy="689.2" r="1.45" fill="#000"/>
<circle cx="124.8" cy="687.1" r="1.45" fill="#000"/>
<circle cx="131.0" cy="645.0" r="1.45" fill="#000"/>
<circle cx="133.0" cy="641.0" r="1.45" fill="#000"/>
<circle cx="118.0" cy="659.2" r="1.45" fill="#000"/>
<circle cx="118.2" cy="654.4" r="1.45" fill="#000"/>
<circle cx="126.3" cy="648.3" r="1.45" fill="#000"/>
<circle cx="118.2" cy="658.5" r="1.45" fill="#000"/>
<circle cx="130.5" cy="646.3" r="1.45" fill="#000"/>
<circle cx="125.5" cy="653.0" r="1.45" fill="#000"/>
<circle cx="117.4" cy="655.8" r="1.45" fill="#000"/>
<circle cx="122.6" cy="651.8" r="1.45" fill="#000"/>
<circle cx="124.8" cy="653.5" r="1.45" fill="#000"/>
<circle cx="120.5" cy="653.0" r="1.45" fill="#000"/>
<circle cx="116.3" cy="655.3" r="1.45" fill="#000"/>
<circle cx="121.3" cy="652.9" r="1.45" fill="#000"/>
<circle cx="136.3" cy="641.1" r="1.45" fill="#000"/>
<circle cx="116.5" cy="659.0" r="1.45" fill="#000"/>
<circle cx="122.7" cy="653.1" r="1.45" fill="#000"/>
<circle cx="119.2" cy="654.9" r="1.45" fill="#000"/>
<circle cx="129.6" cy="646.4" r="1.45" fill="#000"/>
<circle cx="124.0" cy="651.3" r="1.45" fill="#000"/>
<circle cx="126.5" cy="651.0" r="1.45" fill="#000"/>
<circle cx="125.3" cy="648.6" r="1.45" fill="#000"/>
<circle cx="126.5" cy="652.6" r="1.45" fill="#000"/>
<circle cx="121.8" cy="655.0" r="1.45" fill="#000"/>
<circle cx="124.0" cy="651.7" r="1.45" fill="#000"/>
<circle cx="118.4" cy="654.1" r="1.45" fill="#000"/>
<circle cx="127.4" cy="652.0" r="1.45" fill="#000"/>
<circle cx="128.2" cy="649.7" r="1.45" fill="#000"/>
<circle cx="124.5" cy="655.1" r="1.45" fill="#000"/>
<circle cx="120.0" cy="657.5" r="1.45" fill="#000"/>
<circle cx="125.1" cy="653.2" r="1.45" fill="#000"/>
<circle cx="121.6" cy="660.4" r="1.45" fill="#000"/>
<circle cx="124.4" cy="652.0" r="1.45" fill="#000"/>
<circle cx="118.6" cy="656.7" r="1.45" fill="#000"/>
<circle cx="128.3" cy="648.2" r="1.45" fill="#000"/>
<circle cx="127.0" cy="648.7" r="1.45" fill="#000"/>
<circle cx="126.7" cy="644.7" r="1.45" fill="#000"/>
<circle cx="119.1" cy="657.1" r="1.45" fill="#000"/>
<circle cx="127.4" cy="646.4" r="1.45" fill="#000"/>
<circle cx="125.0" cy="645.4" r="1.45" fill="#000"/>
<circle cx="129.6" cy="651.2" r="1.45" fill="#000"/>
<circle cx="118.0" cy="656.5" r="1.45" fill="#000"/>
<circle cx="133.9" cy="642.9" r="1.45" fill="#000"/>
<circle cx="128.9" cy="649.9" r="1.45" fill="#000"/>
<circle cx="118.9" cy="656.6" r="1.45" fill="#000"/>
<circle cx="129.5" cy="647.4" r="1.45" fill="#000"/>
<circle cx="113.7" cy="658.5" r="1.45" fill="#000"/>
<circle cx="121.2" cy="654.0" r="1.45" fill="#000"/>
<circle cx="125.9" cy="648.8" r="1.45" fill="#000"/>
<circle cx="123.7" cy="653.7" r="1.45" fill="#000"/>
<circle cx="107.1" cy="649.7" r="1.4" fill="#E8282E"/>
<circle cx="137.8" cy="647.4" r="1.4" fill="#E8282E"/>
<circle cx="121.5" cy="654" r="1.4" fill="#E8282E"/>
<circle cx="123.5" cy="655.5" r="1.4" fill="#E8282E"/>
<circle cx="125" cy="653.5" r="1.4" fill="#E8282E"/>
<circle cx="122.5" cy="657" r="1.4" fill="#E8282E"/>
<circle cx="124.8" cy="657.8" r="1.4" fill="#E8282E"/>
<circle cx="120.8" cy="656" r="1.4" fill="#E8282E"/>
<line x1="127.5" y1="656.5" x2="132.2" y2="660.5" stroke="#E8282E" stroke-width="0.7"/>
<line x1="121" y1="653" x2="127.5" y2="658" stroke="#E8282E" stroke-width="0.6"/>
<text x="86.9" y="647.3" font-size="8" text-anchor="start" fill="#E8282E" stroke="#E8282E" font-weight="normal" font-style="italic" >Nedd9</text>
<text x="140.2" y="651.4" font-size="7.6" text-anchor="start" fill="#E8282E" stroke="#E8282E" font-weight="normal" font-style="italic" >Arap1</text>
<text x="132.7" y="663.2" font-size="8" text-anchor="start" fill="#E8282E" stroke="#E8282E" font-weight="normal" font-style="italic" >Sema4c</text>
<text x="132.7" y="668.9" font-size="8" text-anchor="start" fill="#E8282E" stroke="#E8282E" font-weight="normal" font-style="italic" >Junb</text>
<text x="132.7" y="675.1" font-size="8" text-anchor="start" fill="#E8282E" stroke="#E8282E" font-weight="normal" font-style="italic" >Nr4a2</text>
<text x="132.7" y="681.1" font-size="8" text-anchor="start" fill="#E8282E" stroke="#E8282E" font-weight="normal" font-style="italic" >Nfil3</text>
<text x="223.6" y="570.9" font-size="8.6" text-anchor="middle" fill="#000" stroke="none" font-weight="bold" font-style="normal" >G</text>
<line x1="281.9" y1="574.2" x2="281.9" y2="704.6" stroke="#D4D4D4" stroke-width="0.7"/>
<line x1="309.1" y1="574.2" x2="309.1" y2="704.6" stroke="#D4D4D4" stroke-width="0.7"/>
<line x1="336.3" y1="574.2" x2="336.3" y2="704.6" stroke="#D4D4D4" stroke-width="0.7"/>
<line x1="363.5" y1="574.2" x2="363.5" y2="704.6" stroke="#D4D4D4" stroke-width="0.7"/>
<line x1="390.7" y1="574.2" x2="390.7" y2="704.6" stroke="#D4D4D4" stroke-width="0.7"/>
<line x1="417.9" y1="574.2" x2="417.9" y2="704.6" stroke="#D4D4D4" stroke-width="0.7"/>
<line x1="445.1" y1="574.2" x2="445.1" y2="704.6" stroke="#D4D4D4" stroke-width="0.7"/>
<line x1="472.3" y1="574.2" x2="472.3" y2="704.6" stroke="#D4D4D4" stroke-width="0.7"/>
<line x1="254.7" y1="672.0" x2="499.2" y2="672.0" stroke="#D4D4D4" stroke-width="0.7"/>
<line x1="254.7" y1="639.4" x2="499.2" y2="639.4" stroke="#D4D4D4" stroke-width="0.7"/>
<line x1="254.7" y1="606.8" x2="499.2" y2="606.8" stroke="#D4D4D4" stroke-width="0.7"/>
<rect x="254.7" y="574.2" width="244.5" height="130.39999999999998" fill="none" stroke="#A8A8A8" stroke-width="0.7"/>
<text x="254.7" y="713.6" font-size="8" text-anchor="middle" fill="#222" stroke="#222" font-weight="normal" font-style="normal" >−4</text>
<text x="281.9" y="713.6" font-size="8" text-anchor="middle" fill="#222" stroke="#222" font-weight="normal" font-style="normal" >−3</text>
<text x="309.1" y="713.6" font-size="8" text-anchor="middle" fill="#222" stroke="#222" font-weight="normal" font-style="normal" >−2</text>
<text x="336.3" y="713.6" font-size="8" text-anchor="middle" fill="#222" stroke="#222" font-weight="normal" font-style="normal" >−1</text>
<text x="363.5" y="713.6" font-size="8" text-anchor="middle" fill="#222" stroke="#222" font-weight="normal" font-style="normal" >0</text>
<text x="390.7" y="713.6" font-size="8" text-anchor="middle" fill="#222" stroke="#222" font-weight="normal" font-style="normal" >1</text>
<text x="417.9" y="713.6" font-size="8" text-anchor="middle" fill="#222" stroke="#222" font-weight="normal" font-style="normal" >2</text>
<text x="445.1" y="713.6" font-size="8" text-anchor="middle" fill="#222" stroke="#222" font-weight="normal" font-style="normal" >3</text>
<text x="472.3" y="713.6" font-size="8" text-anchor="middle" fill="#222" stroke="#222" font-weight="normal" font-style="normal" >4</text>
<text x="499.5" y="713.6" font-size="8" text-anchor="middle" fill="#222" stroke="#222" font-weight="normal" font-style="normal" >5</text>
<text x="253.8" y="577.1" font-size="8" text-anchor="end" fill="#222" stroke="#222" font-weight="normal" font-style="normal" >80</text>
<text x="253.8" y="609.7" font-size="8" text-anchor="end" fill="#222" stroke="#222" font-weight="normal" font-style="normal" >60</text>
<text x="253.8" y="642.3" font-size="8" text-anchor="end" fill="#222" stroke="#222" font-weight="normal" font-style="normal" >40</text>
<text x="253.8" y="674.9" font-size="8" text-anchor="end" fill="#222" stroke="#222" font-weight="normal" font-style="normal" >20</text>
<text x="381.5" y="573.5" font-size="8" text-anchor="middle" fill="#111" stroke="#111">genes with SE-looped promoters (<tspan font-style="italic">n</tspan>=626)</text>
<text x="373.5" y="721.9" font-size="8" text-anchor="middle" fill="#222" stroke="#222">log<tspan font-size="5.5" dy="1.8">2</tspan><tspan dy="-1.8">(fold change)</tspan></text>
<text x="375.3" y="733.5" font-size="8" text-anchor="middle" fill="#222" stroke="#222" font-weight="normal" font-style="normal" >SU-CCS-1 control vs. EA1 knockdown</text>
<text font-size="8" text-anchor="middle" fill="#222" stroke="#222" transform="translate(240,638.3) rotate(-90)">-log(p-adj)</text>
<circle cx="317.1" cy="634.3" r="1.85" fill="#000"/>
<circle cx="312.0" cy="648.5" r="1.85" fill="#000"/>
<circle cx="320.9" cy="648.5" r="1.85" fill="#000"/>
<circle cx="319.4" cy="656.7" r="1.85" fill="#000"/>
<circle cx="312.3" cy="648.3" r="1.85" fill="#000"/>
<circle cx="314.2" cy="670.3" r="1.85" fill="#000"/>
<circle cx="318.4" cy="670.7" r="1.85" fill="#000"/>
<circle cx="324.8" cy="670.7" r="1.85" fill="#000"/>
<circle cx="333.1" cy="666.5" r="1.85" fill="#000"/>
<circle cx="332.6" cy="670.7" r="1.85" fill="#000"/>
<circle cx="330.3" cy="676.0" r="1.85" fill="#000"/>
<circle cx="333.6" cy="675.5" r="1.85" fill="#000"/>
<circle cx="330.0" cy="680.7" r="1.85" fill="#000"/>
<circle cx="333.1" cy="683.8" r="1.85" fill="#000"/>
<circle cx="336.5" cy="684.0" r="1.85" fill="#000"/>
<circle cx="338.3" cy="683.3" r="1.85" fill="#000"/>
<circle cx="309.9" cy="695.6" r="1.85" fill="#000"/>
<circle cx="316.5" cy="692.5" r="1.85" fill="#000"/>
<circle cx="325.5" cy="700.3" r="1.85" fill="#000"/>
<circle cx="343.7" cy="687.3" r="1.85" fill="#000"/>
<circle cx="416.2" cy="612.5" r="1.85" fill="#000"/>
<circle cx="407.2" cy="645.0" r="1.85" fill="#000"/>
<circle cx="410.3" cy="644.1" r="1.85" fill="#000"/>
<circle cx="413.1" cy="650.6" r="1.85" fill="#000"/>
<circle cx="410.9" cy="653.4" r="1.85" fill="#000"/>
<circle cx="417.7" cy="651.8" r="1.85" fill="#000"/>
<circle cx="397.0" cy="662.6" r="1.85" fill="#000"/>
<circle cx="391.7" cy="677.5" r="1.85" fill="#000"/>
<circle cx="395.5" cy="678.4" r="1.85" fill="#000"/>
<circle cx="404.1" cy="675.9" r="1.85" fill="#000"/>
<circle cx="413.4" cy="682.7" r="1.85" fill="#000"/>
<circle cx="417.7" cy="683.0" r="1.85" fill="#000"/>
<circle cx="407.8" cy="686.7" r="1.85" fill="#000"/>
<circle cx="401.6" cy="688.3" r="1.85" fill="#000"/>
<circle cx="414.0" cy="684.9" r="1.85" fill="#000"/>
<circle cx="402.1" cy="689.2" r="1.85" fill="#000"/>
<circle cx="394.6" cy="690.8" r="1.85" fill="#000"/>
<circle cx="415.8" cy="688.5" r="1.85" fill="#000"/>
<circle cx="413.0" cy="695.6" r="1.85" fill="#000"/>
<circle cx="414.7" cy="696.7" r="1.85" fill="#000"/>
<circle cx="404.0" cy="694.0" r="1.85" fill="#000"/>
<circle cx="411.0" cy="699.0" r="1.85" fill="#000"/>
<circle cx="382.7" cy="687.3" r="1.85" fill="#000"/>
<circle cx="388.7" cy="686.0" r="1.85" fill="#000"/>
<circle cx="406.4" cy="645.2" r="1.85" fill="#000"/>
<circle cx="410.6" cy="643.5" r="1.85" fill="#000"/>
<circle cx="413.0" cy="650.6" r="1.85" fill="#000"/>
<circle cx="330.0" cy="690.0" r="1.85" fill="#000"/>
<circle cx="329.0" cy="696.0" r="1.85" fill="#000"/>
<circle cx="333.0" cy="698.0" r="1.85" fill="#000"/>
<circle cx="407.0" cy="699.0" r="1.85" fill="#000"/>
<circle cx="418.0" cy="698.0" r="1.85" fill="#000"/>
<circle cx="376.7" cy="700.5" r="1.85" fill="#000"/>
<circle cx="389.6" cy="693.8" r="1.85" fill="#000"/>
<circle cx="385.5" cy="696.3" r="1.85" fill="#000"/>
<circle cx="332.5" cy="693.8" r="1.85" fill="#000"/>
<circle cx="400.6" cy="690.6" r="1.85" fill="#000"/>
<circle cx="397.5" cy="701.1" r="1.85" fill="#000"/>
<circle cx="365.3" cy="703.3" r="1.85" fill="#000"/>
<circle cx="370.8" cy="702.2" r="1.85" fill="#000"/>
<circle cx="331.3" cy="698.1" r="1.85" fill="#000"/>
<circle cx="351.1" cy="699.4" r="1.85" fill="#000"/>
<circle cx="387.4" cy="701.9" r="1.85" fill="#000"/>
<circle cx="389.7" cy="701.8" r="1.85" fill="#000"/>
<circle cx="376.3" cy="703.2" r="1.85" fill="#000"/>
<circle cx="330.4" cy="685.3" r="1.85" fill="#000"/>
<circle cx="345.9" cy="701.8" r="1.85" fill="#000"/>
<circle cx="403.5" cy="684.7" r="1.85" fill="#000"/>
<circle cx="351.9" cy="699.6" r="1.85" fill="#000"/>
<circle cx="370.5" cy="702.0" r="1.85" fill="#000"/>
<circle cx="345.6" cy="696.5" r="1.85" fill="#000"/>
<circle cx="381.8" cy="697.8" r="1.85" fill="#000"/>
<circle cx="396.9" cy="698.0" r="1.85" fill="#000"/>
<circle cx="357.2" cy="703.3" r="1.85" fill="#000"/>
<circle cx="341.2" cy="702.8" r="1.85" fill="#000"/>
<circle cx="352.8" cy="701.2" r="1.85" fill="#000"/>
<circle cx="330.6" cy="688.8" r="1.85" fill="#000"/>
<circle cx="355.5" cy="702.7" r="1.85" fill="#000"/>
<circle cx="391.3" cy="697.4" r="1.85" fill="#000"/>
<circle cx="353.9" cy="701.9" r="1.85" fill="#000"/>
<circle cx="382.8" cy="703.3" r="1.85" fill="#000"/>
<circle cx="403.0" cy="703.0" r="1.85" fill="#000"/>
<circle cx="386.2" cy="696.4" r="1.85" fill="#000"/>
<circle cx="331.7" cy="687.8" r="1.85" fill="#000"/>
<circle cx="357.6" cy="702.2" r="1.85" fill="#000"/>
<circle cx="331.0" cy="702.3" r="1.85" fill="#000"/>
<circle cx="343.8" cy="695.3" r="1.85" fill="#000"/>
<circle cx="345.0" cy="697.4" r="1.85" fill="#000"/>
<circle cx="399.6" cy="686.8" r="1.85" fill="#000"/>
<circle cx="356.0" cy="702.6" r="1.85" fill="#000"/>
<circle cx="369.4" cy="701.9" r="1.85" fill="#000"/>
<circle cx="338.4" cy="693.5" r="1.85" fill="#000"/>
<circle cx="389.7" cy="694.5" r="1.85" fill="#000"/>
<circle cx="333.0" cy="686.7" r="1.85" fill="#000"/>
<circle cx="337.1" cy="698.0" r="1.85" fill="#000"/>
<circle cx="375.8" cy="700.2" r="1.85" fill="#000"/>
<circle cx="355.7" cy="701.0" r="1.85" fill="#000"/>
<circle cx="370.9" cy="702.9" r="1.85" fill="#000"/>
<circle cx="353.9" cy="703.0" r="1.85" fill="#000"/>
<circle cx="336.1" cy="700.7" r="1.85" fill="#000"/>
<circle cx="381.7" cy="697.7" r="1.85" fill="#000"/>
<circle cx="342.4" cy="703.1" r="1.85" fill="#000"/>
<circle cx="403.9" cy="690.8" r="1.85" fill="#000"/>
<circle cx="360.6" cy="703.3" r="1.85" fill="#000"/>
<circle cx="374.6" cy="700.8" r="1.85" fill="#000"/>
<circle cx="364.3" cy="703.0" r="1.85" fill="#000"/>
<circle cx="334.5" cy="688.4" r="1.85" fill="#000"/>
<circle cx="332.8" cy="693.5" r="1.85" fill="#000"/>
<circle cx="392.8" cy="701.5" r="1.85" fill="#000"/>
<circle cx="384.8" cy="696.4" r="1.85" fill="#000"/>
<circle cx="377.3" cy="700.2" r="1.85" fill="#000"/>
<circle cx="338.3" cy="697.2" r="1.85" fill="#000"/>
<circle cx="341.4" cy="694.6" r="1.85" fill="#000"/>
<circle cx="352.3" cy="701.7" r="1.85" fill="#000"/>
<circle cx="404.8" cy="684.0" r="1.85" fill="#000"/>
<circle cx="403.1" cy="692.8" r="1.85" fill="#000"/>
<circle cx="366.7" cy="702.3" r="1.85" fill="#000"/>
<circle cx="366.0" cy="703.2" r="1.85" fill="#000"/>
<circle cx="360.4" cy="703.5" r="1.85" fill="#000"/>
<circle cx="358.4" cy="701.5" r="1.85" fill="#000"/>
<circle cx="401.8" cy="690.2" r="1.85" fill="#000"/>
<circle cx="367.5" cy="703.1" r="1.85" fill="#000"/>
<circle cx="337.0" cy="698.9" r="1.85" fill="#000"/>
<circle cx="388.6" cy="695.0" r="1.85" fill="#000"/>
<circle cx="357.2" cy="701.7" r="1.85" fill="#000"/>
<circle cx="388.1" cy="696.7" r="1.85" fill="#000"/>
<circle cx="379.8" cy="699.5" r="1.85" fill="#000"/>
<circle cx="357.4" cy="701.9" r="1.85" fill="#000"/>
<circle cx="351.2" cy="701.3" r="1.85" fill="#000"/>
<circle cx="387.7" cy="696.9" r="1.85" fill="#000"/>
<circle cx="352.2" cy="699.7" r="1.85" fill="#000"/>
<circle cx="378.7" cy="700.7" r="1.85" fill="#000"/>
<circle cx="331.2" cy="691.6" r="1.85" fill="#000"/>
<circle cx="349.0" cy="699.7" r="1.85" fill="#000"/>
<circle cx="364.8" cy="702.3" r="1.85" fill="#000"/>
<circle cx="378.6" cy="699.8" r="1.85" fill="#000"/>
<circle cx="356.2" cy="701.8" r="1.85" fill="#000"/>
<circle cx="385.3" cy="697.0" r="1.85" fill="#000"/>
<circle cx="356.4" cy="701.4" r="1.85" fill="#000"/>
<circle cx="395.1" cy="693.2" r="1.85" fill="#000"/>
<circle cx="403.1" cy="683.6" r="1.85" fill="#000"/>
<circle cx="368.9" cy="702.5" r="1.85" fill="#000"/>
<circle cx="342.7" cy="695.5" r="1.85" fill="#000"/>
<circle cx="400.2" cy="693.7" r="1.85" fill="#000"/>
<circle cx="381.8" cy="699.1" r="1.85" fill="#000"/>
<circle cx="384.7" cy="702.1" r="1.85" fill="#000"/>
<circle cx="388.5" cy="697.5" r="1.85" fill="#000"/>
<circle cx="379.9" cy="701.2" r="1.85" fill="#000"/>
<circle cx="376.8" cy="700.4" r="1.85" fill="#000"/>
<circle cx="377.8" cy="700.3" r="1.85" fill="#000"/>
<circle cx="332.4" cy="699.7" r="1.85" fill="#000"/>
<circle cx="363.2" cy="702.6" r="1.85" fill="#000"/>
<circle cx="346.6" cy="698.6" r="1.85" fill="#000"/>
<circle cx="377.3" cy="703.6" r="1.85" fill="#000"/>
<circle cx="365.5" cy="703.4" r="1.85" fill="#000"/>
<circle cx="334.4" cy="700.6" r="1.85" fill="#000"/>
<circle cx="354.0" cy="703.0" r="1.85" fill="#000"/>
<circle cx="344.7" cy="703.4" r="1.85" fill="#000"/>
<circle cx="365.0" cy="703.1" r="1.85" fill="#000"/>
<circle cx="375.9" cy="701.3" r="1.85" fill="#000"/>
<circle cx="348.0" cy="698.1" r="1.85" fill="#000"/>
<circle cx="330.4" cy="693.8" r="1.85" fill="#000"/>
<circle cx="351.1" cy="701.6" r="1.85" fill="#000"/>
<circle cx="338.9" cy="693.0" r="1.85" fill="#000"/>
<circle cx="358.2" cy="703.8" r="1.85" fill="#000"/>
<circle cx="376.0" cy="703.4" r="1.85" fill="#000"/>
<circle cx="371.0" cy="702.8" r="1.85" fill="#000"/>
<circle cx="373.6" cy="700.7" r="1.85" fill="#000"/>
<circle cx="391.3" cy="698.1" r="1.85" fill="#000"/>
<circle cx="390.9" cy="695.9" r="1.85" fill="#000"/>
<circle cx="357.8" cy="703.4" r="1.85" fill="#000"/>
<circle cx="374.7" cy="701.6" r="1.85" fill="#000"/>
<circle cx="401.7" cy="684.7" r="1.85" fill="#000"/>
<circle cx="375.7" cy="702.3" r="1.85" fill="#000"/>
<circle cx="396.9" cy="703.9" r="1.85" fill="#000"/>
<circle cx="338.4" cy="695.6" r="1.85" fill="#000"/>
<circle cx="376.2" cy="703.1" r="1.85" fill="#000"/>
<circle cx="377.2" cy="699.8" r="1.85" fill="#000"/>
<circle cx="358.3" cy="702.7" r="1.85" fill="#000"/>
<circle cx="347.2" cy="701.4" r="1.85" fill="#000"/>
<circle cx="402.8" cy="694.4" r="1.85" fill="#000"/>
<circle cx="401.9" cy="685.3" r="1.85" fill="#000"/>
<circle cx="374.7" cy="702.7" r="1.85" fill="#000"/>
<circle cx="403.4" cy="691.8" r="1.85" fill="#000"/>
<circle cx="361.3" cy="703.2" r="1.85" fill="#000"/>
<circle cx="403.7" cy="691.7" r="1.85" fill="#000"/>
<circle cx="351.7" cy="701.4" r="1.85" fill="#000"/>
<circle cx="339.4" cy="695.6" r="1.85" fill="#000"/>
<circle cx="363.4" cy="703.3" r="1.85" fill="#000"/>
<circle cx="388.6" cy="695.4" r="1.85" fill="#000"/>
<circle cx="331.3" cy="692.0" r="1.85" fill="#000"/>
<circle cx="350.7" cy="699.2" r="1.85" fill="#000"/>
<circle cx="388.6" cy="700.7" r="1.85" fill="#000"/>
<circle cx="350.3" cy="702.8" r="1.85" fill="#000"/>
<circle cx="404.0" cy="695.8" r="1.85" fill="#000"/>
<circle cx="375.6" cy="701.8" r="1.85" fill="#000"/>
<circle cx="378.4" cy="700.7" r="1.85" fill="#000"/>
<circle cx="385.7" cy="702.5" r="1.85" fill="#000"/>
<circle cx="387.0" cy="700.5" r="1.85" fill="#000"/>
<circle cx="370.1" cy="702.9" r="1.85" fill="#000"/>
<circle cx="352.4" cy="701.4" r="1.85" fill="#000"/>
<circle cx="364.9" cy="703.1" r="1.85" fill="#000"/>
<circle cx="385.8" cy="698.5" r="1.85" fill="#000"/>
<circle cx="333.0" cy="698.0" r="1.85" fill="#000"/>
<circle cx="364.3" cy="702.1" r="1.85" fill="#000"/>
<circle cx="396.5" cy="694.4" r="1.85" fill="#000"/>
<circle cx="331.4" cy="687.8" r="1.85" fill="#000"/>
<circle cx="362.2" cy="702.7" r="1.85" fill="#000"/>
<circle cx="383.1" cy="699.1" r="1.85" fill="#000"/>
<circle cx="366.2" cy="702.0" r="1.85" fill="#000"/>
<circle cx="359.0" cy="702.9" r="1.85" fill="#000"/>
<circle cx="393.8" cy="700.3" r="1.85" fill="#000"/>
<circle cx="352.4" cy="700.2" r="1.85" fill="#000"/>
<circle cx="335.2" cy="690.1" r="1.85" fill="#000"/>
<circle cx="382.1" cy="700.6" r="1.85" fill="#000"/>
<circle cx="351.7" cy="700.2" r="1.85" fill="#000"/>
<circle cx="398.2" cy="700.4" r="1.85" fill="#000"/>
<circle cx="366.0" cy="702.7" r="1.85" fill="#000"/>
<circle cx="367.4" cy="703.1" r="1.85" fill="#000"/>
<circle cx="341.8" cy="697.1" r="1.85" fill="#000"/>
<circle cx="390.8" cy="702.7" r="1.85" fill="#000"/>
<circle cx="347.5" cy="698.2" r="1.85" fill="#000"/>
<circle cx="389.3" cy="696.4" r="1.85" fill="#000"/>
<circle cx="332.2" cy="689.4" r="1.85" fill="#000"/>
<circle cx="403.3" cy="682.7" r="1.85" fill="#000"/>
<circle cx="382.6" cy="703.4" r="1.85" fill="#000"/>
<circle cx="393.1" cy="700.1" r="1.85" fill="#000"/>
<circle cx="378.4" cy="699.2" r="1.85" fill="#000"/>
<circle cx="383.4" cy="702.6" r="1.85" fill="#000"/>
<circle cx="352.1" cy="699.8" r="1.85" fill="#000"/>
<circle cx="341.5" cy="696.8" r="1.85" fill="#000"/>
<circle cx="361.2" cy="703.5" r="1.85" fill="#000"/>
<circle cx="376.7" cy="703.6" r="1.85" fill="#000"/>
<circle cx="338.4" cy="697.9" r="1.85" fill="#000"/>
<circle cx="335.7" cy="702.4" r="1.85" fill="#000"/>
<circle cx="373.2" cy="701.4" r="1.85" fill="#000"/>
<circle cx="395.8" cy="701.0" r="1.85" fill="#000"/>
<circle cx="362.5" cy="703.2" r="1.85" fill="#000"/>
<circle cx="375.0" cy="701.8" r="1.85" fill="#000"/>
<circle cx="400.3" cy="695.5" r="1.85" fill="#000"/>
<circle cx="334.5" cy="691.5" r="1.85" fill="#000"/>
<circle cx="341.6" cy="696.6" r="1.85" fill="#000"/>
<circle cx="368.0" cy="701.9" r="1.85" fill="#000"/>
<circle cx="371.7" cy="702.0" r="1.85" fill="#000"/>
<circle cx="349.9" cy="700.6" r="1.85" fill="#000"/>
<circle cx="349.3" cy="699.4" r="1.85" fill="#000"/>
<circle cx="368.8" cy="703.5" r="1.85" fill="#000"/>
<circle cx="347.8" cy="701.0" r="1.85" fill="#000"/>
<circle cx="385.2" cy="701.9" r="1.85" fill="#000"/>
<circle cx="383.5" cy="698.9" r="1.85" fill="#000"/>
<circle cx="336.7" cy="693.4" r="1.85" fill="#000"/>
<circle cx="337.1" cy="701.3" r="1.85" fill="#000"/>
<circle cx="374.6" cy="702.8" r="1.85" fill="#000"/>
<circle cx="395.7" cy="695.7" r="1.85" fill="#000"/>
<circle cx="354.4" cy="701.0" r="1.85" fill="#000"/>
<circle cx="332.5" cy="689.6" r="1.85" fill="#000"/>
<circle cx="334.3" cy="700.3" r="1.85" fill="#000"/>
<circle cx="401.3" cy="689.7" r="1.85" fill="#000"/>
<circle cx="346.9" cy="702.7" r="1.85" fill="#000"/>
<circle cx="402.8" cy="688.9" r="1.85" fill="#000"/>
<circle cx="391.5" cy="701.5" r="1.85" fill="#000"/>
<circle cx="376.9" cy="702.1" r="1.85" fill="#000"/>
<circle cx="347.8" cy="701.3" r="1.85" fill="#000"/>
<circle cx="376.1" cy="702.2" r="1.85" fill="#000"/>
<circle cx="359.1" cy="703.5" r="1.85" fill="#000"/>
<circle cx="392.3" cy="695.2" r="1.85" fill="#000"/>
<circle cx="390.3" cy="698.3" r="1.85" fill="#000"/>
<circle cx="393.8" cy="696.0" r="1.85" fill="#000"/>
<circle cx="374.5" cy="701.6" r="1.85" fill="#000"/>
<circle cx="385.5" cy="700.1" r="1.85" fill="#000"/>
<circle cx="337.5" cy="703.1" r="1.85" fill="#000"/>
<circle cx="345.4" cy="703.4" r="1.85" fill="#000"/>
<circle cx="396.6" cy="695.3" r="1.85" fill="#000"/>
<circle cx="387.0" cy="704.0" r="1.85" fill="#000"/>
<circle cx="365.4" cy="702.1" r="1.85" fill="#000"/>
<circle cx="376.5" cy="701.8" r="1.85" fill="#000"/>
<circle cx="365.0" cy="703.7" r="1.85" fill="#000"/>
<circle cx="341.8" cy="701.6" r="1.85" fill="#000"/>
<circle cx="358.2" cy="702.8" r="1.85" fill="#000"/>
<circle cx="395.9" cy="700.7" r="1.85" fill="#000"/>
<circle cx="349.3" cy="701.9" r="1.85" fill="#000"/>
<circle cx="342.4" cy="700.3" r="1.85" fill="#000"/>
<circle cx="347.8" cy="700.3" r="1.85" fill="#000"/>
<circle cx="332.7" cy="686.6" r="1.85" fill="#000"/>
<circle cx="357.8" cy="701.5" r="1.85" fill="#000"/>
<circle cx="381.6" cy="699.4" r="1.85" fill="#000"/>
<circle cx="365.5" cy="702.0" r="1.85" fill="#000"/>
<circle cx="339.1" cy="694.9" r="1.85" fill="#000"/>
<circle cx="352.0" cy="700.7" r="1.85" fill="#000"/>
<circle cx="384.7" cy="702.2" r="1.85" fill="#000"/>
<circle cx="345.3" cy="703.6" r="1.85" fill="#000"/>
<circle cx="347.5" cy="703.1" r="1.85" fill="#000"/>
<circle cx="360.2" cy="701.8" r="1.85" fill="#000"/>
<circle cx="357.5" cy="702.9" r="1.85" fill="#000"/>
<circle cx="365.2" cy="703.3" r="1.85" fill="#000"/>
<circle cx="384.9" cy="697.9" r="1.85" fill="#000"/>
<circle cx="342.5" cy="700.8" r="1.85" fill="#000"/>
<circle cx="380.4" cy="698.5" r="1.85" fill="#000"/>
<circle cx="378.5" cy="701.4" r="1.85" fill="#000"/>
<circle cx="403.0" cy="703.6" r="1.85" fill="#000"/>
<circle cx="334.9" cy="690.6" r="1.85" fill="#000"/>
<circle cx="360.9" cy="703.8" r="1.85" fill="#000"/>
<circle cx="371.2" cy="701.2" r="1.85" fill="#000"/>
<circle cx="369.0" cy="702.9" r="1.85" fill="#000"/>
<circle cx="337.3" cy="702.3" r="1.85" fill="#000"/>
<circle cx="397.3" cy="694.8" r="1.85" fill="#000"/>
<circle cx="400.1" cy="702.2" r="1.85" fill="#000"/>
<circle cx="348.5" cy="703.4" r="1.85" fill="#000"/>
<circle cx="359.9" cy="703.8" r="1.85" fill="#000"/>
<circle cx="349.4" cy="701.2" r="1.85" fill="#000"/>
<circle cx="353.1" cy="703.6" r="1.85" fill="#000"/>
<circle cx="333.1" cy="686.3" r="1.85" fill="#000"/>
<circle cx="343.7" cy="698.7" r="1.85" fill="#000"/>
<circle cx="360.3" cy="702.7" r="1.85" fill="#000"/>
<circle cx="336.6" cy="698.2" r="1.85" fill="#000"/>
<circle cx="338.4" cy="695.9" r="1.85" fill="#000"/>
<circle cx="399.0" cy="692.4" r="1.85" fill="#000"/>
<circle cx="394.2" cy="700.0" r="1.85" fill="#000"/>
<circle cx="331.6" cy="692.0" r="1.85" fill="#000"/>
<circle cx="366.6" cy="702.6" r="1.85" fill="#000"/>
<circle cx="358.4" cy="702.3" r="1.85" fill="#000"/>
<circle cx="384.4" cy="696.9" r="1.85" fill="#000"/>
<circle cx="353.2" cy="701.9" r="1.85" fill="#000"/>
<circle cx="391.9" cy="700.3" r="1.85" fill="#000"/>
<circle cx="338.9" cy="699.0" r="1.85" fill="#000"/>
<circle cx="336.8" cy="692.2" r="1.85" fill="#000"/>
<circle cx="391.4" cy="699.3" r="1.85" fill="#000"/>
<circle cx="340.0" cy="702.4" r="1.85" fill="#000"/>
<circle cx="348.6" cy="703.1" r="1.85" fill="#000"/>
<circle cx="362.3" cy="702.7" r="1.85" fill="#000"/>
<circle cx="348.6" cy="703.3" r="1.85" fill="#000"/>
<circle cx="382.5" cy="703.4" r="1.85" fill="#000"/>
<circle cx="345.2" cy="701.0" r="1.85" fill="#000"/>
<circle cx="358.2" cy="703.6" r="1.85" fill="#000"/>
<circle cx="361.7" cy="703.2" r="1.85" fill="#000"/>
<circle cx="386.4" cy="698.5" r="1.85" fill="#000"/>
<circle cx="397.1" cy="692.6" r="1.85" fill="#000"/>
<circle cx="386.9" cy="698.2" r="1.85" fill="#000"/>
<circle cx="363.3" cy="702.3" r="1.85" fill="#000"/>
<circle cx="379.2" cy="698.9" r="1.85" fill="#000"/>
<circle cx="384.6" cy="698.1" r="1.85" fill="#000"/>
<circle cx="350.3" cy="699.5" r="1.85" fill="#000"/>
<circle cx="358.8" cy="703.5" r="1.85" fill="#000"/>
<circle cx="335.2" cy="700.1" r="1.85" fill="#000"/>
<circle cx="349.9" cy="700.0" r="1.85" fill="#000"/>
<circle cx="351.6" cy="703.5" r="1.85" fill="#000"/>
<circle cx="387.2" cy="698.2" r="1.85" fill="#000"/>
<circle cx="332.4" cy="702.3" r="1.85" fill="#000"/>
<circle cx="340.0" cy="698.8" r="1.85" fill="#000"/>
<circle cx="394.4" cy="690.6" r="1.85" fill="#000"/>
<circle cx="375.9" cy="702.7" r="1.85" fill="#000"/>
<circle cx="362.3" cy="703.1" r="1.85" fill="#000"/>
<circle cx="354.9" cy="703.9" r="1.85" fill="#000"/>
<circle cx="373.9" cy="701.0" r="1.85" fill="#000"/>
<circle cx="384.5" cy="702.8" r="1.85" fill="#000"/>
<circle cx="369.8" cy="703.4" r="1.85" fill="#000"/>
<circle cx="383.2" cy="700.3" r="1.85" fill="#000"/>
<circle cx="400.3" cy="688.5" r="1.85" fill="#000"/>
<circle cx="339.1" cy="699.0" r="1.85" fill="#000"/>
<circle cx="398.5" cy="694.8" r="1.85" fill="#000"/>
<circle cx="362.7" cy="703.0" r="1.85" fill="#000"/>
<circle cx="387.5" cy="695.1" r="1.85" fill="#000"/>
<circle cx="370.0" cy="701.4" r="1.85" fill="#000"/>
<circle cx="374.7" cy="703.4" r="1.85" fill="#000"/>
<circle cx="391.0" cy="698.2" r="1.85" fill="#000"/>
<circle cx="334.2" cy="687.3" r="1.85" fill="#000"/>
<circle cx="332.8" cy="692.1" r="1.85" fill="#000"/>
<circle cx="366.2" cy="702.1" r="1.85" fill="#000"/>
<circle cx="359.6" cy="703.3" r="1.85" fill="#000"/>
<circle cx="351.0" cy="702.6" r="1.85" fill="#000"/>
<circle cx="372.2" cy="702.6" r="1.85" fill="#000"/>
<circle cx="386.3" cy="701.2" r="1.85" fill="#000"/>
<circle cx="356.5" cy="703.0" r="1.85" fill="#000"/>
<circle cx="403.5" cy="685.3" r="1.85" fill="#000"/>
<circle cx="393.7" cy="694.9" r="1.85" fill="#000"/>
<circle cx="360.2" cy="703.5" r="1.85" fill="#000"/>
<circle cx="392.3" cy="697.0" r="1.85" fill="#000"/>
<circle cx="333.1" cy="699.6" r="1.85" fill="#000"/>
<circle cx="337.7" cy="693.4" r="1.85" fill="#000"/>
<circle cx="397.4" cy="699.5" r="1.85" fill="#000"/>
<circle cx="389.7" cy="699.6" r="1.85" fill="#000"/>
<circle cx="381.2" cy="698.5" r="1.85" fill="#000"/>
<circle cx="376.8" cy="700.3" r="1.85" fill="#000"/>
<circle cx="358.4" cy="703.9" r="1.85" fill="#000"/>
<circle cx="368.5" cy="702.5" r="1.85" fill="#000"/>
<circle cx="344.1" cy="699.8" r="1.85" fill="#000"/>
<circle cx="354.0" cy="703.8" r="1.85" fill="#000"/>
<circle cx="353.6" cy="702.2" r="1.85" fill="#000"/>
<circle cx="365.8" cy="702.4" r="1.85" fill="#000"/>
<circle cx="360.1" cy="701.8" r="1.85" fill="#000"/>
<circle cx="391.1" cy="693.1" r="1.85" fill="#000"/>
<circle cx="381.9" cy="699.3" r="1.85" fill="#000"/>
<circle cx="370.3" cy="701.8" r="1.85" fill="#000"/>
<circle cx="357.4" cy="702.2" r="1.85" fill="#000"/>
<circle cx="381.0" cy="700.4" r="1.85" fill="#000"/>
<circle cx="351.5" cy="703.4" r="1.85" fill="#000"/>
<circle cx="336.8" cy="697.6" r="1.85" fill="#000"/>
<circle cx="373.6" cy="701.3" r="1.85" fill="#000"/>
<circle cx="383.6" cy="701.2" r="1.85" fill="#000"/>
<circle cx="399.6" cy="697.6" r="1.85" fill="#000"/>
<circle cx="383.7" cy="703.1" r="1.85" fill="#000"/>
<circle cx="386.5" cy="697.6" r="1.85" fill="#000"/>
<circle cx="401.6" cy="685.8" r="1.85" fill="#000"/>
<circle cx="381.6" cy="698.5" r="1.85" fill="#000"/>
<circle cx="385.4" cy="698.5" r="1.85" fill="#000"/>
<circle cx="345.9" cy="699.5" r="1.85" fill="#000"/>
<circle cx="397.1" cy="698.9" r="1.85" fill="#000"/>
<circle cx="403.0" cy="691.1" r="1.85" fill="#000"/>
<circle cx="359.6" cy="704.0" r="1.85" fill="#000"/>
<circle cx="359.4" cy="703.4" r="1.85" fill="#000"/>
<circle cx="379.0" cy="699.2" r="1.85" fill="#000"/>
<circle cx="398.1" cy="692.6" r="1.85" fill="#000"/>
<circle cx="359.1" cy="703.6" r="1.85" fill="#000"/>
<circle cx="381.6" cy="700.0" r="1.85" fill="#000"/>
<circle cx="383.6" cy="700.7" r="1.85" fill="#000"/>
<circle cx="396.4" cy="699.5" r="1.85" fill="#000"/>
<circle cx="353.1" cy="702.6" r="1.85" fill="#000"/>
<circle cx="376.7" cy="700.0" r="1.85" fill="#000"/>
<circle cx="342.8" cy="697.2" r="1.85" fill="#000"/>
<circle cx="387.4" cy="701.2" r="1.85" fill="#000"/>
<circle cx="335.0" cy="693.7" r="1.85" fill="#000"/>
<circle cx="392.2" cy="692.8" r="1.85" fill="#000"/>
<circle cx="384.6" cy="700.1" r="1.85" fill="#000"/>
<circle cx="362.0" cy="702.8" r="1.85" fill="#000"/>
<circle cx="397.7" cy="697.7" r="1.85" fill="#000"/>
<circle cx="351.2" cy="700.7" r="1.85" fill="#000"/>
<circle cx="402.4" cy="698.6" r="1.85" fill="#000"/>
<circle cx="332.6" cy="700.7" r="1.85" fill="#000"/>
<circle cx="372.2" cy="701.9" r="1.85" fill="#000"/>
<circle cx="344.0" cy="701.6" r="1.85" fill="#000"/>
<circle cx="374.6" cy="701.4" r="1.85" fill="#000"/>
<circle cx="381.8" cy="699.0" r="1.85" fill="#000"/>
<circle cx="334.9" cy="694.8" r="1.85" fill="#000"/>
<circle cx="392.5" cy="691.8" r="1.85" fill="#000"/>
<circle cx="354.0" cy="700.7" r="1.85" fill="#000"/>
<circle cx="378.4" cy="699.3" r="1.85" fill="#000"/>
<circle cx="347.4" cy="698.9" r="1.85" fill="#000"/>
<circle cx="393.0" cy="696.9" r="1.85" fill="#000"/>
<circle cx="337.8" cy="700.3" r="1.85" fill="#000"/>
<circle cx="342.0" cy="702.5" r="1.85" fill="#000"/>
<circle cx="341.6" cy="696.8" r="1.85" fill="#000"/>
<circle cx="338.1" cy="693.3" r="1.85" fill="#000"/>
<circle cx="385.2" cy="697.1" r="1.85" fill="#000"/>
<circle cx="390.2" cy="695.6" r="1.85" fill="#000"/>
<circle cx="399.2" cy="686.9" r="1.85" fill="#000"/>
<circle cx="376.9" cy="699.7" r="1.85" fill="#000"/>
<circle cx="338.0" cy="701.8" r="1.85" fill="#000"/>
<circle cx="335.1" cy="699.4" r="1.85" fill="#000"/>
<circle cx="358.2" cy="702.6" r="1.85" fill="#000"/>
<circle cx="381.0" cy="699.2" r="1.85" fill="#000"/>
<circle cx="336.6" cy="696.8" r="1.85" fill="#000"/>
<circle cx="370.8" cy="702.7" r="1.85" fill="#000"/>
<circle cx="339.1" cy="695.7" r="1.85" fill="#000"/>
<circle cx="358.2" cy="702.1" r="1.85" fill="#000"/>
<circle cx="367.2" cy="701.8" r="1.85" fill="#000"/>
<circle cx="400.7" cy="701.7" r="1.85" fill="#000"/>
<circle cx="386.9" cy="697.0" r="1.85" fill="#000"/>
<circle cx="352.4" cy="703.2" r="1.85" fill="#000"/>
<circle cx="366.0" cy="703.1" r="1.85" fill="#000"/>
<circle cx="385.3" cy="696.4" r="1.85" fill="#000"/>
<circle cx="358.8" cy="703.1" r="1.85" fill="#000"/>
<circle cx="367.5" cy="702.3" r="1.85" fill="#000"/>
<circle cx="389.1" cy="697.3" r="1.85" fill="#000"/>
<circle cx="352.4" cy="702.2" r="1.85" fill="#000"/>
<circle cx="393.5" cy="696.1" r="1.85" fill="#000"/>
<circle cx="334.1" cy="695.4" r="1.85" fill="#000"/>
<circle cx="348.0" cy="699.3" r="1.85" fill="#000"/>
<circle cx="335.8" cy="698.5" r="1.85" fill="#000"/>
<circle cx="337.5" cy="696.3" r="1.85" fill="#000"/>
<circle cx="403.7" cy="690.7" r="1.85" fill="#000"/>
<circle cx="359.1" cy="701.7" r="1.85" fill="#000"/>
<circle cx="337.2" cy="697.8" r="1.85" fill="#000"/>
<circle cx="426.4" cy="603.3" r="1.85" fill="#E8282E"/>
<circle cx="478.3" cy="615" r="1.85" fill="#E8282E"/>
<circle cx="434.1" cy="625.5" r="1.85" fill="#E8282E"/>
<circle cx="444.9" cy="625.5" r="1.85" fill="#E8282E"/>
<circle cx="450.5" cy="629.6" r="1.85" fill="#E8282E"/>
<circle cx="453.6" cy="629.6" r="1.85" fill="#E8282E"/>
<circle cx="462.8" cy="650.3" r="1.85" fill="#E8282E"/>
<circle cx="453.3" cy="674.4" r="1.85" fill="#E8282E"/>
<circle cx="451.7" cy="678.1" r="1.85" fill="#E8282E"/>
<circle cx="467.2" cy="676.5" r="1.85" fill="#E8282E"/>
<circle cx="426.4" cy="680.6" r="1.85" fill="#E8282E"/>
<circle cx="430.1" cy="685.2" r="1.85" fill="#E8282E"/>
<circle cx="421.7" cy="689.2" r="1.85" fill="#E8282E"/>
<circle cx="429.5" cy="688.3" r="1.85" fill="#E8282E"/>
<circle cx="424.8" cy="692.9" r="1.85" fill="#E8282E"/>
<circle cx="430.1" cy="694.5" r="1.85" fill="#E8282E"/>
<circle cx="427" cy="697" r="1.85" fill="#E8282E"/>
<circle cx="426" cy="680.7" r="1.85" fill="#E8282E"/>
<circle cx="422.5" cy="688.5" r="1.85" fill="#E8282E"/>
<circle cx="286.3" cy="585.4" r="1.85" fill="#1F6DC0"/>
<circle cx="302.6" cy="619" r="1.85" fill="#1F6DC0"/>
<circle cx="305.6" cy="651.1" r="1.85" fill="#1F6DC0"/>
<text x="288.9" y="583.6" font-size="7.0" text-anchor="start" fill="#1F6DC0" stroke="#1F6DC0" font-weight="normal" font-style="italic" >SEMA5A</text>
<text x="299.8" y="619.3" font-size="7.3" text-anchor="end" fill="#1F6DC0" stroke="#1F6DC0" font-weight="normal" font-style="italic" >ID2</text>
<text x="302.3" y="656.6" font-size="7.0" text-anchor="end" fill="#1F6DC0" stroke="#1F6DC0" font-weight="normal" font-style="italic" >MLPH</text>
<text x="457.3" y="635.8" font-size="7.3" text-anchor="start" fill="#E8282E" stroke="#E8282E" font-weight="normal" font-style="italic" >CDC6</text>
<text x="450.5" y="670.1" font-size="7.0" text-anchor="start" fill="#E8282E" stroke="#E8282E" font-weight="normal" font-style="italic" >CCND1</text>
<text x="436.6" y="697.9" font-size="6.8" text-anchor="start" fill="#E8282E" stroke="#E8282E" font-weight="normal" font-style="italic" >FOSL1</text>
<line x1="454" y1="630" x2="457" y2="633" stroke="#E8282E" stroke-width="0.6"/>
<line x1="430.5" y1="695.4" x2="436.5" y2="695.4" stroke="#E8282E" stroke-width="0.6"/>
<line x1="453.5" y1="674" x2="455" y2="671" stroke="#E8282E" stroke-width="0.6"/>
</svg>
</body></html>
